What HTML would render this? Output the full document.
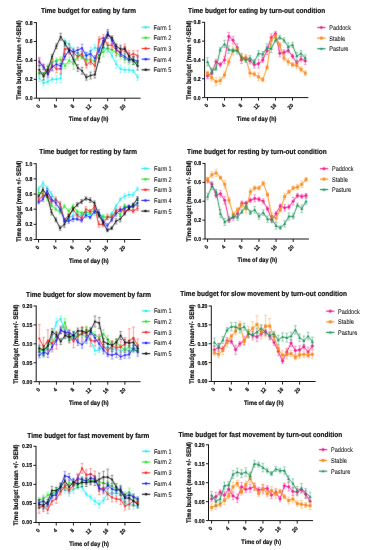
<!DOCTYPE html><html><head><meta charset="utf-8"><style>html,body{margin:0;padding:0;background:#fff;overflow:hidden}svg{display:block;text-rendering:geometricPrecision;will-change:transform}</style></head><body>
<svg width="366" height="550" viewBox="0 0 366 550" font-family='"Liberation Sans", sans-serif'><style>text{stroke:currentColor;stroke-width:0.16px;paint-order:stroke}</style>
<defs><filter id="bl" x="0" y="0" width="366" height="550" filterUnits="userSpaceOnUse" color-interpolation-filters="sRGB"><feConvolveMatrix order="3" kernelMatrix="0.3 1 0.3 1 10 1 0.3 1 0.3" edgeMode="duplicate"/></filter></defs>
<g filter="url(#bl)"><rect width="366" height="550" fill="#fff"/>
<path d="M39.3,75.25V81.46M37.95,75.25h2.7M37.95,81.46h2.7M43.57,80.19V85.97M42.22,80.19h2.7M42.22,85.97h2.7M47.85,79.1V84.23M46.5,79.1h2.7M46.5,84.23h2.7M52.12,77.34V81.26M50.77,77.34h2.7M50.77,81.26h2.7M56.4,75.59V83.01M55.05,75.59h2.7M55.05,83.01h2.7M60.67,74.16V82.55M59.32,74.16h2.7M59.32,82.55h2.7M64.95,38.69V44.31M63.6,38.69h2.7M63.6,44.31h2.7M69.22,40.99V47.68M67.88,40.99h2.7M67.88,47.68h2.7M73.5,47.17V54.73M72.15,47.17h2.7M72.15,54.73h2.7M77.78,49.89V57.68M76.43,49.89h2.7M76.43,57.68h2.7M82.05,52.02V59.33M80.7,52.02h2.7M80.7,59.33h2.7M86.33,53.11V58.24M84.98,53.11h2.7M84.98,58.24h2.7M90.6,47.62V54.28M89.25,47.62h2.7M89.25,54.28h2.7M94.88,44.5V50.79M93.53,44.5h2.7M93.53,50.79h2.7M99.15,45.99V52.13M97.8,45.99h2.7M97.8,52.13h2.7M103.42,46.21V50.02M102.08,46.21h2.7M102.08,50.02h2.7M107.7,45.44V52.68M106.35,45.44h2.7M106.35,52.68h2.7M111.98,53.22V58.13M110.63,53.22h2.7M110.63,58.13h2.7M116.25,60.17V68.19M114.9,60.17h2.7M114.9,68.19h2.7M120.53,64.97V72.84M119.18,64.97h2.7M119.18,72.84h2.7M124.8,67.15V72.55M123.45,67.15h2.7M123.45,72.55h2.7M129.07,67.05V72.65M127.72,67.05h2.7M127.72,72.65h2.7M133.35,68.82V72.77M132,68.82h2.7M132,72.77h2.7M137.62,74.59V80.23M136.28,74.59h2.7M136.28,80.23h2.7" stroke="#19eef2" stroke-width="0.55" fill="none" opacity="0.8"/>
<path d="M39.3,78.36L43.57,83.08L47.85,81.66L52.12,79.3L56.4,79.3L60.67,78.36L64.95,41.5L69.22,44.34L73.5,50.95L77.78,53.79L82.05,55.68L86.33,55.68L90.6,50.95L94.88,47.64L99.15,49.06L103.42,48.12L107.7,49.06L111.98,55.68L116.25,64.18L120.53,68.91L124.8,69.85L129.07,69.85L133.35,70.8L137.62,77.41" stroke="#19eef2" stroke-width="0.95" fill="none" stroke-linejoin="round"/>
<circle cx="39.3" cy="78.36" r="1.05" fill="#19eef2"/><circle cx="43.57" cy="83.08" r="1.05" fill="#19eef2"/><circle cx="47.85" cy="81.66" r="1.05" fill="#19eef2"/><circle cx="52.12" cy="79.3" r="1.05" fill="#19eef2"/><circle cx="56.4" cy="79.3" r="1.05" fill="#19eef2"/><circle cx="60.67" cy="78.36" r="1.05" fill="#19eef2"/><circle cx="64.95" cy="41.5" r="1.05" fill="#19eef2"/><circle cx="69.22" cy="44.34" r="1.05" fill="#19eef2"/><circle cx="73.5" cy="50.95" r="1.05" fill="#19eef2"/><circle cx="77.78" cy="53.79" r="1.05" fill="#19eef2"/><circle cx="82.05" cy="55.68" r="1.05" fill="#19eef2"/><circle cx="86.33" cy="55.68" r="1.05" fill="#19eef2"/><circle cx="90.6" cy="50.95" r="1.05" fill="#19eef2"/><circle cx="94.88" cy="47.64" r="1.05" fill="#19eef2"/><circle cx="99.15" cy="49.06" r="1.05" fill="#19eef2"/><circle cx="103.42" cy="48.12" r="1.05" fill="#19eef2"/><circle cx="107.7" cy="49.06" r="1.05" fill="#19eef2"/><circle cx="111.98" cy="55.68" r="1.05" fill="#19eef2"/><circle cx="116.25" cy="64.18" r="1.05" fill="#19eef2"/><circle cx="120.53" cy="68.91" r="1.05" fill="#19eef2"/><circle cx="124.8" cy="69.85" r="1.05" fill="#19eef2"/><circle cx="129.07" cy="69.85" r="1.05" fill="#19eef2"/><circle cx="133.35" cy="70.8" r="1.05" fill="#19eef2"/><circle cx="137.62" cy="77.41" r="1.05" fill="#19eef2"/>
<path d="M39.3,69.23V76.14M37.95,69.23h2.7M37.95,76.14h2.7M43.57,72.36V76.79M42.22,72.36h2.7M42.22,76.79h2.7M47.85,64.17V69.86M46.5,64.17h2.7M46.5,69.86h2.7M52.12,58.71V65.87M50.77,58.71h2.7M50.77,65.87h2.7M56.4,58.02V62.78M55.05,58.02h2.7M55.05,62.78h2.7M60.67,56.95V61.96M59.32,56.95h2.7M59.32,61.96h2.7M64.95,63.58V68.56M63.6,63.58h2.7M63.6,68.56h2.7M69.22,57.09V63.71M67.88,57.09h2.7M67.88,63.71h2.7M73.5,59.11V69.25M72.15,59.11h2.7M72.15,69.25h2.7M77.78,52.7V58.65M76.43,52.7h2.7M76.43,58.65h2.7M82.05,54.35V58.89M80.7,54.35h2.7M80.7,58.89h2.7M86.33,55.36V65.44M84.98,55.36h2.7M84.98,65.44h2.7M90.6,55.44V63.47M89.25,55.44h2.7M89.25,63.47h2.7M94.88,57.9V64.79M93.53,57.9h2.7M93.53,64.79h2.7M99.15,51.81V57.65M97.8,51.81h2.7M97.8,57.65h2.7M103.42,46.98V56.81M102.08,46.98h2.7M102.08,56.81h2.7M107.7,44.68V51.55M106.35,44.68h2.7M106.35,51.55h2.7M111.98,47.75V52.26M110.63,47.75h2.7M110.63,52.26h2.7M116.25,48.5V57.18M114.9,48.5h2.7M114.9,57.18h2.7M120.53,52.27V59.08M119.18,52.27h2.7M119.18,59.08h2.7M124.8,54.36V62.66M123.45,54.36h2.7M123.45,62.66h2.7M129.07,56.19V64.61M127.72,56.19h2.7M127.72,64.61h2.7M133.35,58.23V64.46M132,58.23h2.7M132,64.46h2.7M137.62,59.83V66.64M136.28,59.83h2.7M136.28,66.64h2.7" stroke="#1ee61e" stroke-width="0.55" fill="none" opacity="0.8"/>
<path d="M39.3,72.69L43.57,74.58L47.85,67.02L52.12,62.29L56.4,60.4L60.67,59.46L64.95,66.07L69.22,60.4L73.5,64.18L77.78,55.68L82.05,56.62L86.33,60.4L90.6,59.46L94.88,61.34L99.15,54.73L103.42,51.9L107.7,48.12L111.98,50.01L116.25,52.84L120.53,55.68L124.8,58.51L129.07,60.4L133.35,61.34L137.62,63.24" stroke="#1ee61e" stroke-width="0.95" fill="none" stroke-linejoin="round"/>
<circle cx="39.3" cy="72.69" r="1.05" fill="#1ee61e"/><circle cx="43.57" cy="74.58" r="1.05" fill="#1ee61e"/><circle cx="47.85" cy="67.02" r="1.05" fill="#1ee61e"/><circle cx="52.12" cy="62.29" r="1.05" fill="#1ee61e"/><circle cx="56.4" cy="60.4" r="1.05" fill="#1ee61e"/><circle cx="60.67" cy="59.46" r="1.05" fill="#1ee61e"/><circle cx="64.95" cy="66.07" r="1.05" fill="#1ee61e"/><circle cx="69.22" cy="60.4" r="1.05" fill="#1ee61e"/><circle cx="73.5" cy="64.18" r="1.05" fill="#1ee61e"/><circle cx="77.78" cy="55.68" r="1.05" fill="#1ee61e"/><circle cx="82.05" cy="56.62" r="1.05" fill="#1ee61e"/><circle cx="86.33" cy="60.4" r="1.05" fill="#1ee61e"/><circle cx="90.6" cy="59.46" r="1.05" fill="#1ee61e"/><circle cx="94.88" cy="61.34" r="1.05" fill="#1ee61e"/><circle cx="99.15" cy="54.73" r="1.05" fill="#1ee61e"/><circle cx="103.42" cy="51.9" r="1.05" fill="#1ee61e"/><circle cx="107.7" cy="48.12" r="1.05" fill="#1ee61e"/><circle cx="111.98" cy="50.01" r="1.05" fill="#1ee61e"/><circle cx="116.25" cy="52.84" r="1.05" fill="#1ee61e"/><circle cx="120.53" cy="55.68" r="1.05" fill="#1ee61e"/><circle cx="124.8" cy="58.51" r="1.05" fill="#1ee61e"/><circle cx="129.07" cy="60.4" r="1.05" fill="#1ee61e"/><circle cx="133.35" cy="61.34" r="1.05" fill="#1ee61e"/><circle cx="137.62" cy="63.24" r="1.05" fill="#1ee61e"/>
<path d="M39.3,57.27V65.42M37.95,57.27h2.7M37.95,65.42h2.7M43.57,64.11V69.92M42.22,64.11h2.7M42.22,69.92h2.7M47.85,69.52V75.85M46.5,69.52h2.7M46.5,75.85h2.7M52.12,60.02V70.23M50.77,60.02h2.7M50.77,70.23h2.7M56.4,64.96V72.85M55.05,64.96h2.7M55.05,72.85h2.7M60.67,63.78V74.03M59.32,63.78h2.7M59.32,74.03h2.7M64.95,43.28V54.84M63.6,43.28h2.7M63.6,54.84h2.7M69.22,43.88V54.24M67.88,43.88h2.7M67.88,54.24h2.7M73.5,49.87V55.81M72.15,49.87h2.7M72.15,55.81h2.7M77.78,53.16V60.08M76.43,53.16h2.7M76.43,60.08h2.7M82.05,49.77V57.8M80.7,49.77h2.7M80.7,57.8h2.7M86.33,62.04V68.21M84.98,62.04h2.7M84.98,68.21h2.7M90.6,58.15V64.54M89.25,58.15h2.7M89.25,64.54h2.7M94.88,63.09V69.05M93.53,63.09h2.7M93.53,69.05h2.7M99.15,36.83V42.39M97.8,36.83h2.7M97.8,42.39h2.7M103.42,34.75V40.69M102.08,34.75h2.7M102.08,40.69h2.7M107.7,42.4V48.16M106.35,42.4h2.7M106.35,48.16h2.7M111.98,40.9V49.66M110.63,40.9h2.7M110.63,49.66h2.7M116.25,44.36V55.65M114.9,44.36h2.7M114.9,55.65h2.7M120.53,47.25V56.54M119.18,47.25h2.7M119.18,56.54h2.7M124.8,44.11V52.12M123.45,44.11h2.7M123.45,52.12h2.7M129.07,50.39V60.96M127.72,50.39h2.7M127.72,60.96h2.7M133.35,50.8V56.77M132,50.8h2.7M132,56.77h2.7M137.62,50.61V60.74M136.28,50.61h2.7M136.28,60.74h2.7" stroke="#ff1f1f" stroke-width="0.55" fill="none" opacity="0.8"/>
<path d="M39.3,61.34L43.57,67.02L47.85,72.69L52.12,65.12L56.4,68.91L60.67,68.91L64.95,49.06L69.22,49.06L73.5,52.84L77.78,56.62L82.05,53.79L86.33,65.12L90.6,61.34L94.88,66.07L99.15,39.61L103.42,37.72L107.7,45.28L111.98,45.28L116.25,50.01L120.53,51.9L124.8,48.12L129.07,55.68L133.35,53.79L137.62,55.68" stroke="#ff1f1f" stroke-width="0.95" fill="none" stroke-linejoin="round"/>
<circle cx="39.3" cy="61.34" r="1.05" fill="#ff1f1f"/><circle cx="43.57" cy="67.02" r="1.05" fill="#ff1f1f"/><circle cx="47.85" cy="72.69" r="1.05" fill="#ff1f1f"/><circle cx="52.12" cy="65.12" r="1.05" fill="#ff1f1f"/><circle cx="56.4" cy="68.91" r="1.05" fill="#ff1f1f"/><circle cx="60.67" cy="68.91" r="1.05" fill="#ff1f1f"/><circle cx="64.95" cy="49.06" r="1.05" fill="#ff1f1f"/><circle cx="69.22" cy="49.06" r="1.05" fill="#ff1f1f"/><circle cx="73.5" cy="52.84" r="1.05" fill="#ff1f1f"/><circle cx="77.78" cy="56.62" r="1.05" fill="#ff1f1f"/><circle cx="82.05" cy="53.79" r="1.05" fill="#ff1f1f"/><circle cx="86.33" cy="65.12" r="1.05" fill="#ff1f1f"/><circle cx="90.6" cy="61.34" r="1.05" fill="#ff1f1f"/><circle cx="94.88" cy="66.07" r="1.05" fill="#ff1f1f"/><circle cx="99.15" cy="39.61" r="1.05" fill="#ff1f1f"/><circle cx="103.42" cy="37.72" r="1.05" fill="#ff1f1f"/><circle cx="107.7" cy="45.28" r="1.05" fill="#ff1f1f"/><circle cx="111.98" cy="45.28" r="1.05" fill="#ff1f1f"/><circle cx="116.25" cy="50.01" r="1.05" fill="#ff1f1f"/><circle cx="120.53" cy="51.9" r="1.05" fill="#ff1f1f"/><circle cx="124.8" cy="48.12" r="1.05" fill="#ff1f1f"/><circle cx="129.07" cy="55.68" r="1.05" fill="#ff1f1f"/><circle cx="133.35" cy="53.79" r="1.05" fill="#ff1f1f"/><circle cx="137.62" cy="55.68" r="1.05" fill="#ff1f1f"/>
<path d="M39.3,58.89V65.69M37.95,58.89h2.7M37.95,65.69h2.7M43.57,64.7V69.33M42.22,64.7h2.7M42.22,69.33h2.7M47.85,71.44V77.71M46.5,71.44h2.7M46.5,77.71h2.7M52.12,63.12V70.91M50.77,63.12h2.7M50.77,70.91h2.7M56.4,61.56V66.8M55.05,61.56h2.7M55.05,66.8h2.7M60.67,63.49V68.65M59.32,63.49h2.7M59.32,68.65h2.7M64.95,53.6V59.64M63.6,53.6h2.7M63.6,59.64h2.7M69.22,47.94V52.07M67.88,47.94h2.7M67.88,52.07h2.7M73.5,48.88V54.91M72.15,48.88h2.7M72.15,54.91h2.7M77.78,47.22V52.79M76.43,47.22h2.7M76.43,52.79h2.7M82.05,44.24V51.99M80.7,44.24h2.7M80.7,51.99h2.7M86.33,52.34V59.01M84.98,52.34h2.7M84.98,59.01h2.7M90.6,50.66V56.91M89.25,50.66h2.7M89.25,56.91h2.7M94.88,55.62V61.4M93.53,55.62h2.7M93.53,61.4h2.7M99.15,47.66V52.35M97.8,47.66h2.7M97.8,52.35h2.7M103.42,38.39V42.72M102.08,38.39h2.7M102.08,42.72h2.7M107.7,29.54V36.45M106.35,29.54h2.7M106.35,36.45h2.7M111.98,37.62V43.49M110.63,37.62h2.7M110.63,43.49h2.7M116.25,46.56V51.56M114.9,46.56h2.7M114.9,51.56h2.7M120.53,51.39V56.18M119.18,51.39h2.7M119.18,56.18h2.7M124.8,53.1V60.14M123.45,53.1h2.7M123.45,60.14h2.7M129.07,56.27V62.64M127.72,56.27h2.7M127.72,62.64h2.7M133.35,57.19V61.72M132,57.19h2.7M132,61.72h2.7M137.62,57.2V65.49M136.28,57.2h2.7M136.28,65.49h2.7" stroke="#1f1fff" stroke-width="0.55" fill="none" opacity="0.8"/>
<path d="M39.3,62.29L43.57,67.02L47.85,74.58L52.12,67.02L56.4,64.18L60.67,66.07L64.95,56.62L69.22,50.01L73.5,51.9L77.78,50.01L82.05,48.12L86.33,55.68L90.6,53.79L94.88,58.51L99.15,50.01L103.42,40.56L107.7,33L111.98,40.56L116.25,49.06L120.53,53.79L124.8,56.62L129.07,59.46L133.35,59.46L137.62,61.34" stroke="#1f1fff" stroke-width="0.95" fill="none" stroke-linejoin="round"/>
<circle cx="39.3" cy="62.29" r="1.05" fill="#1f1fff"/><circle cx="43.57" cy="67.02" r="1.05" fill="#1f1fff"/><circle cx="47.85" cy="74.58" r="1.05" fill="#1f1fff"/><circle cx="52.12" cy="67.02" r="1.05" fill="#1f1fff"/><circle cx="56.4" cy="64.18" r="1.05" fill="#1f1fff"/><circle cx="60.67" cy="66.07" r="1.05" fill="#1f1fff"/><circle cx="64.95" cy="56.62" r="1.05" fill="#1f1fff"/><circle cx="69.22" cy="50.01" r="1.05" fill="#1f1fff"/><circle cx="73.5" cy="51.9" r="1.05" fill="#1f1fff"/><circle cx="77.78" cy="50.01" r="1.05" fill="#1f1fff"/><circle cx="82.05" cy="48.12" r="1.05" fill="#1f1fff"/><circle cx="86.33" cy="55.68" r="1.05" fill="#1f1fff"/><circle cx="90.6" cy="53.79" r="1.05" fill="#1f1fff"/><circle cx="94.88" cy="58.51" r="1.05" fill="#1f1fff"/><circle cx="99.15" cy="50.01" r="1.05" fill="#1f1fff"/><circle cx="103.42" cy="40.56" r="1.05" fill="#1f1fff"/><circle cx="107.7" cy="33" r="1.05" fill="#1f1fff"/><circle cx="111.98" cy="40.56" r="1.05" fill="#1f1fff"/><circle cx="116.25" cy="49.06" r="1.05" fill="#1f1fff"/><circle cx="120.53" cy="53.79" r="1.05" fill="#1f1fff"/><circle cx="124.8" cy="56.62" r="1.05" fill="#1f1fff"/><circle cx="129.07" cy="59.46" r="1.05" fill="#1f1fff"/><circle cx="133.35" cy="59.46" r="1.05" fill="#1f1fff"/><circle cx="137.62" cy="61.34" r="1.05" fill="#1f1fff"/>
<path d="M39.3,65.77V73.93M37.95,65.77h2.7M37.95,73.93h2.7M43.57,72.89V80.04M42.22,72.89h2.7M42.22,80.04h2.7M47.85,66.16V73.54M46.5,66.16h2.7M46.5,73.54h2.7M52.12,54.36V58.88M50.77,54.36h2.7M50.77,58.88h2.7M56.4,43.9V48.55M55.05,43.9h2.7M55.05,48.55h2.7M60.67,33.33V40.22M59.32,33.33h2.7M59.32,40.22h2.7M64.95,40.86V45.92M63.6,40.86h2.7M63.6,45.92h2.7M69.22,49.13V52.77M67.88,49.13h2.7M67.88,52.77h2.7M73.5,56.88V62.03M72.15,56.88h2.7M72.15,62.03h2.7M77.78,64.59V71.33M76.43,64.59h2.7M76.43,71.33h2.7M82.05,67.32V74.27M80.7,67.32h2.7M80.7,74.27h2.7M86.33,74.63V80.19M84.98,74.63h2.7M84.98,80.19h2.7M90.6,72.05V78.99M89.25,72.05h2.7M89.25,78.99h2.7M94.88,71.14V78.01M93.53,71.14h2.7M93.53,78.01h2.7M99.15,54.77V62.25M97.8,54.77h2.7M97.8,62.25h2.7M103.42,41.09V47.58M102.08,41.09h2.7M102.08,47.58h2.7M107.7,31.23V38.54M106.35,31.23h2.7M106.35,38.54h2.7M111.98,35.77V39.67M110.63,35.77h2.7M110.63,39.67h2.7M116.25,44V48.45M114.9,44h2.7M114.9,48.45h2.7M120.53,45.23V52.89M119.18,45.23h2.7M119.18,52.89h2.7M124.8,46.73V51.39M123.45,46.73h2.7M123.45,51.39h2.7M129.07,52.86V60.38M127.72,52.86h2.7M127.72,60.38h2.7M133.35,56.31V64.49M132,56.31h2.7M132,64.49h2.7M137.62,62.05V70.09M136.28,62.05h2.7M136.28,70.09h2.7" stroke="#111111" stroke-width="0.55" fill="none" opacity="0.8"/>
<path d="M39.3,69.85L43.57,76.47L47.85,69.85L52.12,56.62L56.4,46.23L60.67,36.77L64.95,43.39L69.22,50.95L73.5,59.46L77.78,67.96L82.05,70.8L86.33,77.41L90.6,75.52L94.88,74.58L99.15,58.51L103.42,44.34L107.7,34.88L111.98,37.72L116.25,46.23L120.53,49.06L124.8,49.06L129.07,56.62L133.35,60.4L137.62,66.07" stroke="#111111" stroke-width="0.95" fill="none" stroke-linejoin="round"/>
<circle cx="39.3" cy="69.85" r="1.05" fill="#111111"/><circle cx="43.57" cy="76.47" r="1.05" fill="#111111"/><circle cx="47.85" cy="69.85" r="1.05" fill="#111111"/><circle cx="52.12" cy="56.62" r="1.05" fill="#111111"/><circle cx="56.4" cy="46.23" r="1.05" fill="#111111"/><circle cx="60.67" cy="36.77" r="1.05" fill="#111111"/><circle cx="64.95" cy="43.39" r="1.05" fill="#111111"/><circle cx="69.22" cy="50.95" r="1.05" fill="#111111"/><circle cx="73.5" cy="59.46" r="1.05" fill="#111111"/><circle cx="77.78" cy="67.96" r="1.05" fill="#111111"/><circle cx="82.05" cy="70.8" r="1.05" fill="#111111"/><circle cx="86.33" cy="77.41" r="1.05" fill="#111111"/><circle cx="90.6" cy="75.52" r="1.05" fill="#111111"/><circle cx="94.88" cy="74.58" r="1.05" fill="#111111"/><circle cx="99.15" cy="58.51" r="1.05" fill="#111111"/><circle cx="103.42" cy="44.34" r="1.05" fill="#111111"/><circle cx="107.7" cy="34.88" r="1.05" fill="#111111"/><circle cx="111.98" cy="37.72" r="1.05" fill="#111111"/><circle cx="116.25" cy="46.23" r="1.05" fill="#111111"/><circle cx="120.53" cy="49.06" r="1.05" fill="#111111"/><circle cx="124.8" cy="49.06" r="1.05" fill="#111111"/><circle cx="129.07" cy="56.62" r="1.05" fill="#111111"/><circle cx="133.35" cy="60.4" r="1.05" fill="#111111"/><circle cx="137.62" cy="66.07" r="1.05" fill="#111111"/>
<path d="M141.6,27.2h8.3" stroke="#19eef2" stroke-width="1.15"/>
<circle cx="145.75" cy="27.2" r="1.26" fill="#19eef2"/>
<path d="M141.6,37.85h8.3" stroke="#1ee61e" stroke-width="1.15"/>
<circle cx="145.75" cy="37.85" r="1.26" fill="#1ee61e"/>
<path d="M141.6,48.5h8.3" stroke="#ff1f1f" stroke-width="1.15"/>
<circle cx="145.75" cy="48.5" r="1.26" fill="#ff1f1f"/>
<path d="M141.6,59.15h8.3" stroke="#1f1fff" stroke-width="1.15"/>
<circle cx="145.75" cy="59.15" r="1.26" fill="#1f1fff"/>
<path d="M141.6,69.8h8.3" stroke="#111111" stroke-width="1.15"/>
<circle cx="145.75" cy="69.8" r="1.26" fill="#111111"/>
<path d="M207.5,73.37V78.55M206.15,73.37h2.7M206.15,78.55h2.7M211.75,69.25V77.02M210.4,69.25h2.7M210.4,77.02h2.7M216,59.35V64.34M214.65,59.35h2.7M214.65,64.34h2.7M220.25,62.47V66.86M218.9,62.47h2.7M218.9,66.86h2.7M224.5,56.28V63.64M223.15,56.28h2.7M223.15,63.64h2.7M228.75,32.44V40.43M227.4,32.44h2.7M227.4,40.43h2.7M233,36.3V44.1M231.65,36.3h2.7M231.65,44.1h2.7M237.25,43.77V51.69M235.9,43.77h2.7M235.9,51.69h2.7M241.5,56.41V63.51M240.15,56.41h2.7M240.15,63.51h2.7M245.75,55.92V60.23M244.4,55.92h2.7M244.4,60.23h2.7M250,57.86V63.94M248.65,57.86h2.7M248.65,63.94h2.7M254.25,61.23V68.1M252.9,61.23h2.7M252.9,68.1h2.7M258.5,59.39V68.05M257.15,59.39h2.7M257.15,68.05h2.7M262.75,57.44V62.48M261.4,57.44h2.7M261.4,62.48h2.7M267,46.46V54.64M265.65,46.46h2.7M265.65,54.64h2.7M271.25,33.89V40.86M269.9,33.89h2.7M269.9,40.86h2.7M275.5,31.39V35.83M274.15,31.39h2.7M274.15,35.83h2.7M279.75,49.9V56.84M278.4,49.9h2.7M278.4,56.84h2.7M284,49.85V55.02M282.65,49.85h2.7M282.65,55.02h2.7M288.25,48.31V52.79M286.9,48.31h2.7M286.9,52.79h2.7M292.5,54.15V58.25M291.15,54.15h2.7M291.15,58.25h2.7M296.75,60.65V64.92M295.4,60.65h2.7M295.4,64.92h2.7M301,56.42V61.62M299.65,56.42h2.7M299.65,61.62h2.7M305.25,57.18V64.62M303.9,57.18h2.7M303.9,64.62h2.7" stroke="#f2188c" stroke-width="0.55" fill="none" opacity="0.8"/>
<path d="M207.5,75.96L211.75,73.13L216,61.84L220.25,64.66L224.5,59.96L228.75,36.43L233,40.2L237.25,47.73L241.5,59.96L245.75,58.08L250,60.9L254.25,64.66L258.5,63.72L262.75,59.96L267,50.55L271.25,37.38L275.5,33.61L279.75,53.37L284,52.43L288.25,50.55L292.5,56.2L296.75,62.78L301,59.02L305.25,60.9" stroke="#f2188c" stroke-width="0.95" fill="none" stroke-linejoin="round"/>
<path d="M207.5,74.11L209.35,75.96L207.5,77.81L205.65,75.96Z" fill="#f2188c"/><path d="M211.75,71.28L213.6,73.13L211.75,74.98L209.9,73.13Z" fill="#f2188c"/><path d="M216,59.99L217.85,61.84L216,63.69L214.15,61.84Z" fill="#f2188c"/><path d="M220.25,62.81L222.1,64.66L220.25,66.51L218.4,64.66Z" fill="#f2188c"/><path d="M224.5,58.11L226.35,59.96L224.5,61.81L222.65,59.96Z" fill="#f2188c"/><path d="M228.75,34.58L230.6,36.43L228.75,38.28L226.9,36.43Z" fill="#f2188c"/><path d="M233,38.35L234.85,40.2L233,42.05L231.15,40.2Z" fill="#f2188c"/><path d="M237.25,45.88L239.1,47.73L237.25,49.58L235.4,47.73Z" fill="#f2188c"/><path d="M241.5,58.11L243.35,59.96L241.5,61.81L239.65,59.96Z" fill="#f2188c"/><path d="M245.75,56.23L247.6,58.08L245.75,59.93L243.9,58.08Z" fill="#f2188c"/><path d="M250,59.05L251.85,60.9L250,62.75L248.15,60.9Z" fill="#f2188c"/><path d="M254.25,62.81L256.1,64.66L254.25,66.51L252.4,64.66Z" fill="#f2188c"/><path d="M258.5,61.87L260.35,63.72L258.5,65.57L256.65,63.72Z" fill="#f2188c"/><path d="M262.75,58.11L264.6,59.96L262.75,61.81L260.9,59.96Z" fill="#f2188c"/><path d="M267,48.7L268.85,50.55L267,52.4L265.15,50.55Z" fill="#f2188c"/><path d="M271.25,35.53L273.1,37.38L271.25,39.23L269.4,37.38Z" fill="#f2188c"/><path d="M275.5,31.76L277.35,33.61L275.5,35.46L273.65,33.61Z" fill="#f2188c"/><path d="M279.75,51.52L281.6,53.37L279.75,55.22L277.9,53.37Z" fill="#f2188c"/><path d="M284,50.58L285.85,52.43L284,54.28L282.15,52.43Z" fill="#f2188c"/><path d="M288.25,48.7L290.1,50.55L288.25,52.4L286.4,50.55Z" fill="#f2188c"/><path d="M292.5,54.35L294.35,56.2L292.5,58.05L290.65,56.2Z" fill="#f2188c"/><path d="M296.75,60.93L298.6,62.78L296.75,64.63L294.9,62.78Z" fill="#f2188c"/><path d="M301,57.17L302.85,59.02L301,60.87L299.15,59.02Z" fill="#f2188c"/><path d="M305.25,59.05L307.1,60.9L305.25,62.75L303.4,60.9Z" fill="#f2188c"/>
<path d="M207.5,71.24V75.03M206.15,71.24h2.7M206.15,75.03h2.7M211.75,74.74V80.93M210.4,74.74h2.7M210.4,80.93h2.7M216,77.8V85.4M214.65,77.8h2.7M214.65,85.4h2.7M220.25,77.22V84.11M218.9,77.22h2.7M218.9,84.11h2.7M224.5,72V78.03M223.15,72h2.7M223.15,78.03h2.7M228.75,58.64V65.05M227.4,58.64h2.7M227.4,65.05h2.7M233,46.25V54.85M231.65,46.25h2.7M231.65,54.85h2.7M237.25,47.6V51.62M235.9,47.6h2.7M235.9,51.62h2.7M241.5,54V60.28M240.15,54h2.7M240.15,60.28h2.7M245.75,54.38V61.78M244.4,54.38h2.7M244.4,61.78h2.7M250,69.39V76.87M248.65,69.39h2.7M248.65,76.87h2.7M254.25,71.99V76.16M252.9,71.99h2.7M252.9,76.16h2.7M258.5,72.96V80.83M257.15,72.96h2.7M257.15,80.83h2.7M262.75,77.58V81.86M261.4,77.58h2.7M261.4,81.86h2.7M267,65.39V69.59M265.65,65.39h2.7M265.65,69.59h2.7M271.25,37.05V43.35M269.9,37.05h2.7M269.9,43.35h2.7M275.5,34.05V38.82M274.15,34.05h2.7M274.15,38.82h2.7M279.75,42.29V47.52M278.4,42.29h2.7M278.4,47.52h2.7M284,55.19V60.96M282.65,55.19h2.7M282.65,60.96h2.7M288.25,58.62V65.07M286.9,58.62h2.7M286.9,65.07h2.7M292.5,62.53V66.8M291.15,62.53h2.7M291.15,66.8h2.7M296.75,62.48V68.73M295.4,62.48h2.7M295.4,68.73h2.7M301,66.78V71.96M299.65,66.78h2.7M299.65,71.96h2.7M305.25,70.88V75.39M303.9,70.88h2.7M303.9,75.39h2.7" stroke="#fb8c1c" stroke-width="0.55" fill="none" opacity="0.8"/>
<path d="M207.5,73.13L211.75,77.84L216,81.6L220.25,80.66L224.5,75.02L228.75,61.84L233,50.55L237.25,49.61L241.5,57.14L245.75,58.08L250,73.13L254.25,74.07L258.5,76.9L262.75,79.72L267,67.49L271.25,40.2L275.5,36.43L279.75,44.9L284,58.08L288.25,61.84L292.5,64.66L296.75,65.61L301,69.37L305.25,73.13" stroke="#fb8c1c" stroke-width="0.95" fill="none" stroke-linejoin="round"/>
<rect x="206.05" y="71.68" width="2.9" height="2.9" fill="#fb8c1c"/><rect x="210.3" y="76.39" width="2.9" height="2.9" fill="#fb8c1c"/><rect x="214.55" y="80.15" width="2.9" height="2.9" fill="#fb8c1c"/><rect x="218.8" y="79.21" width="2.9" height="2.9" fill="#fb8c1c"/><rect x="223.05" y="73.57" width="2.9" height="2.9" fill="#fb8c1c"/><rect x="227.3" y="60.39" width="2.9" height="2.9" fill="#fb8c1c"/><rect x="231.55" y="49.1" width="2.9" height="2.9" fill="#fb8c1c"/><rect x="235.8" y="48.16" width="2.9" height="2.9" fill="#fb8c1c"/><rect x="240.05" y="55.69" width="2.9" height="2.9" fill="#fb8c1c"/><rect x="244.3" y="56.63" width="2.9" height="2.9" fill="#fb8c1c"/><rect x="248.55" y="71.68" width="2.9" height="2.9" fill="#fb8c1c"/><rect x="252.8" y="72.62" width="2.9" height="2.9" fill="#fb8c1c"/><rect x="257.05" y="75.45" width="2.9" height="2.9" fill="#fb8c1c"/><rect x="261.3" y="78.27" width="2.9" height="2.9" fill="#fb8c1c"/><rect x="265.55" y="66.04" width="2.9" height="2.9" fill="#fb8c1c"/><rect x="269.8" y="38.75" width="2.9" height="2.9" fill="#fb8c1c"/><rect x="274.05" y="34.98" width="2.9" height="2.9" fill="#fb8c1c"/><rect x="278.3" y="43.45" width="2.9" height="2.9" fill="#fb8c1c"/><rect x="282.55" y="56.63" width="2.9" height="2.9" fill="#fb8c1c"/><rect x="286.8" y="60.39" width="2.9" height="2.9" fill="#fb8c1c"/><rect x="291.05" y="63.21" width="2.9" height="2.9" fill="#fb8c1c"/><rect x="295.3" y="64.16" width="2.9" height="2.9" fill="#fb8c1c"/><rect x="299.55" y="67.92" width="2.9" height="2.9" fill="#fb8c1c"/><rect x="303.8" y="71.68" width="2.9" height="2.9" fill="#fb8c1c"/>
<path d="M207.5,57.8V65.89M206.15,57.8h2.7M206.15,65.89h2.7M211.75,68.08V74.43M210.4,68.08h2.7M210.4,74.43h2.7M216,66.35V70.5M214.65,66.35h2.7M214.65,70.5h2.7M220.25,47.63V51.59M218.9,47.63h2.7M218.9,51.59h2.7M224.5,40.26V47.66M223.15,40.26h2.7M223.15,47.66h2.7M228.75,45.87V53.35M227.4,45.87h2.7M227.4,53.35h2.7M233,48.39V52.71M231.65,48.39h2.7M231.65,52.71h2.7M237.25,46.96V54.14M235.9,46.96h2.7M235.9,54.14h2.7M241.5,53.38V60.89M240.15,53.38h2.7M240.15,60.89h2.7M245.75,57.46V62.46M244.4,57.46h2.7M244.4,62.46h2.7M250,55.65V60.5M248.65,55.65h2.7M248.65,60.5h2.7M254.25,59.75V63.94M252.9,59.75h2.7M252.9,63.94h2.7M258.5,50.55V56.19M257.15,50.55h2.7M257.15,56.19h2.7M262.75,51.51V57.12M261.4,51.51h2.7M261.4,57.12h2.7M267,43.84V51.62M265.65,43.84h2.7M265.65,51.62h2.7M271.25,44.76V52.57M269.9,44.76h2.7M269.9,52.57h2.7M275.5,38.22V42.18M274.15,38.22h2.7M274.15,42.18h2.7M279.75,35.3V39.45M278.4,35.3h2.7M278.4,39.45h2.7M284,37.78V42.61M282.65,37.78h2.7M282.65,42.61h2.7M288.25,42.9V50.67M286.9,42.9h2.7M286.9,50.67h2.7M292.5,42.2V47.61M291.15,42.2h2.7M291.15,47.61h2.7M296.75,52.26V60.13M295.4,52.26h2.7M295.4,60.13h2.7M301,50.53V56.21M299.65,50.53h2.7M299.65,56.21h2.7M305.25,54.83V61.33M303.9,54.83h2.7M303.9,61.33h2.7" stroke="#17935a" stroke-width="0.55" fill="none" opacity="0.8"/>
<path d="M207.5,61.84L211.75,71.25L216,68.43L220.25,49.61L224.5,43.96L228.75,49.61L233,50.55L237.25,50.55L241.5,57.14L245.75,59.96L250,58.08L254.25,61.84L258.5,53.37L262.75,54.31L267,47.73L271.25,48.67L275.5,40.2L279.75,37.38L284,40.2L288.25,46.79L292.5,44.9L296.75,56.2L301,53.37L305.25,58.08" stroke="#17935a" stroke-width="0.95" fill="none" stroke-linejoin="round"/>
<path d="M207.5,60.29L209.05,63L205.95,63Z" fill="#17935a"/><path d="M211.75,69.7L213.3,72.41L210.2,72.41Z" fill="#17935a"/><path d="M216,66.88L217.55,69.59L214.45,69.59Z" fill="#17935a"/><path d="M220.25,48.06L221.8,50.77L218.7,50.77Z" fill="#17935a"/><path d="M224.5,42.41L226.05,45.13L222.95,45.13Z" fill="#17935a"/><path d="M228.75,48.06L230.3,50.77L227.2,50.77Z" fill="#17935a"/><path d="M233,49L234.55,51.71L231.45,51.71Z" fill="#17935a"/><path d="M237.25,49L238.8,51.71L235.7,51.71Z" fill="#17935a"/><path d="M241.5,55.59L243.05,58.3L239.95,58.3Z" fill="#17935a"/><path d="M245.75,58.41L247.3,61.12L244.2,61.12Z" fill="#17935a"/><path d="M250,56.53L251.55,59.24L248.45,59.24Z" fill="#17935a"/><path d="M254.25,60.29L255.8,63L252.7,63Z" fill="#17935a"/><path d="M258.5,51.82L260.05,54.54L256.95,54.54Z" fill="#17935a"/><path d="M262.75,52.76L264.3,55.48L261.2,55.48Z" fill="#17935a"/><path d="M267,46.18L268.55,48.89L265.45,48.89Z" fill="#17935a"/><path d="M271.25,47.12L272.8,49.83L269.7,49.83Z" fill="#17935a"/><path d="M275.5,38.65L277.05,41.36L273.95,41.36Z" fill="#17935a"/><path d="M279.75,35.83L281.3,38.54L278.2,38.54Z" fill="#17935a"/><path d="M284,38.65L285.55,41.36L282.45,41.36Z" fill="#17935a"/><path d="M288.25,45.24L289.8,47.95L286.7,47.95Z" fill="#17935a"/><path d="M292.5,43.35L294.05,46.07L290.95,46.07Z" fill="#17935a"/><path d="M296.75,54.65L298.3,57.36L295.2,57.36Z" fill="#17935a"/><path d="M301,51.82L302.55,54.54L299.45,54.54Z" fill="#17935a"/><path d="M305.25,56.53L306.8,59.24L303.7,59.24Z" fill="#17935a"/>
<path d="M317.2,27.5h8.3" stroke="#f2188c" stroke-width="1.15"/>
<path d="M321.35,25.65L323.2,27.5L321.35,29.35L319.5,27.5Z" fill="#f2188c"/>
<path d="M317.2,38.1h8.3" stroke="#fb8c1c" stroke-width="1.15"/>
<rect x="319.9" y="36.65" width="2.9" height="2.9" fill="#fb8c1c"/>
<path d="M317.2,48.7h8.3" stroke="#17935a" stroke-width="1.15"/>
<path d="M321.35,47.15L322.9,49.86L319.8,49.86Z" fill="#17935a"/>
<path d="M38.6,186.7V190.73M37.25,186.7h2.7M37.25,190.73h2.7M42.9,181.1V185.72M41.55,181.1h2.7M41.55,185.72h2.7M47.2,186.13V189.78M45.85,186.13h2.7M45.85,189.78h2.7M51.5,191.49V196.55M50.15,191.49h2.7M50.15,196.55h2.7M55.8,198.45V201.72M54.45,198.45h2.7M54.45,201.72h2.7M60.1,202.69V206.57M58.75,202.69h2.7M58.75,206.57h2.7M64.4,218.33V221.25M63.05,218.33h2.7M63.05,221.25h2.7M68.7,216.05V220.5M67.35,216.05h2.7M67.35,220.5h2.7M73,212.34V218.15M71.65,212.34h2.7M71.65,218.15h2.7M77.3,212.95V216.02M75.95,212.95h2.7M75.95,216.02h2.7M81.6,213.7V216.79M80.25,213.7h2.7M80.25,216.79h2.7M85.9,212.21V216.76M84.55,212.21h2.7M84.55,216.76h2.7M90.2,212.3V216.67M88.85,212.3h2.7M88.85,216.67h2.7M94.5,210.24V215.7M93.15,210.24h2.7M93.15,215.7h2.7M98.8,212.71V216.26M97.45,212.71h2.7M97.45,216.26h2.7M103.1,214.67V218.85M101.75,214.67h2.7M101.75,218.85h2.7M107.4,215.66V219.38M106.05,215.66h2.7M106.05,219.38h2.7M111.7,211.97V215.49M110.35,211.97h2.7M110.35,215.49h2.7M116,204.29V208.01M114.65,204.29h2.7M114.65,208.01h2.7M120.3,197.65V201M118.95,197.65h2.7M118.95,201h2.7M124.6,193.7V198.88M123.25,193.7h2.7M123.25,198.88h2.7M128.9,191.89V197.67M127.55,191.89h2.7M127.55,197.67h2.7M133.2,192.22V197.34M131.85,192.22h2.7M131.85,197.34h2.7M137.5,187.1V190.33M136.15,187.1h2.7M136.15,190.33h2.7" stroke="#19eef2" stroke-width="0.55" fill="none" opacity="0.8"/>
<path d="M38.6,188.71L42.9,183.41L47.2,187.96L51.5,194.02L55.8,200.08L60.1,204.63L64.4,219.79L68.7,218.28L73,215.24L77.3,214.49L81.6,215.24L85.9,214.49L90.2,214.49L94.5,212.97L98.8,214.49L103.1,216.76L107.4,217.52L111.7,213.73L116,206.15L120.3,199.33L124.6,196.29L128.9,194.78L133.2,194.78L137.5,188.71" stroke="#19eef2" stroke-width="0.95" fill="none" stroke-linejoin="round"/>
<circle cx="38.6" cy="188.71" r="1.05" fill="#19eef2"/><circle cx="42.9" cy="183.41" r="1.05" fill="#19eef2"/><circle cx="47.2" cy="187.96" r="1.05" fill="#19eef2"/><circle cx="51.5" cy="194.02" r="1.05" fill="#19eef2"/><circle cx="55.8" cy="200.08" r="1.05" fill="#19eef2"/><circle cx="60.1" cy="204.63" r="1.05" fill="#19eef2"/><circle cx="64.4" cy="219.79" r="1.05" fill="#19eef2"/><circle cx="68.7" cy="218.28" r="1.05" fill="#19eef2"/><circle cx="73" cy="215.24" r="1.05" fill="#19eef2"/><circle cx="77.3" cy="214.49" r="1.05" fill="#19eef2"/><circle cx="81.6" cy="215.24" r="1.05" fill="#19eef2"/><circle cx="85.9" cy="214.49" r="1.05" fill="#19eef2"/><circle cx="90.2" cy="214.49" r="1.05" fill="#19eef2"/><circle cx="94.5" cy="212.97" r="1.05" fill="#19eef2"/><circle cx="98.8" cy="214.49" r="1.05" fill="#19eef2"/><circle cx="103.1" cy="216.76" r="1.05" fill="#19eef2"/><circle cx="107.4" cy="217.52" r="1.05" fill="#19eef2"/><circle cx="111.7" cy="213.73" r="1.05" fill="#19eef2"/><circle cx="116" cy="206.15" r="1.05" fill="#19eef2"/><circle cx="120.3" cy="199.33" r="1.05" fill="#19eef2"/><circle cx="124.6" cy="196.29" r="1.05" fill="#19eef2"/><circle cx="128.9" cy="194.78" r="1.05" fill="#19eef2"/><circle cx="133.2" cy="194.78" r="1.05" fill="#19eef2"/><circle cx="137.5" cy="188.71" r="1.05" fill="#19eef2"/>
<path d="M38.6,189.75V195.26M37.25,189.75h2.7M37.25,195.26h2.7M42.9,191.69V196.35M41.55,191.69h2.7M41.55,196.35h2.7M47.2,194.87V200.75M45.85,194.87h2.7M45.85,200.75h2.7M51.5,203.99V206.79M50.15,203.99h2.7M50.15,206.79h2.7M55.8,207.53V210.83M54.45,207.53h2.7M54.45,210.83h2.7M60.1,210.5V213.92M58.75,210.5h2.7M58.75,213.92h2.7M64.4,204.59V207.71M63.05,204.59h2.7M63.05,207.71h2.7M68.7,208.83V214.08M67.35,208.83h2.7M67.35,214.08h2.7M73,204.5V207.8M71.65,204.5h2.7M71.65,207.8h2.7M77.3,209.87V213.03M75.95,209.87h2.7M75.95,213.03h2.7M81.6,211.11V214.83M80.25,211.11h2.7M80.25,214.83h2.7M85.9,210.61V213.81M84.55,210.61h2.7M84.55,213.81h2.7M90.2,210.37V214.06M88.85,210.37h2.7M88.85,214.06h2.7M94.5,209.2V212.2M93.15,209.2h2.7M93.15,212.2h2.7M98.8,212.13V216.84M97.45,212.13h2.7M97.45,216.84h2.7M103.1,215.09V218.43M101.75,215.09h2.7M101.75,218.43h2.7M107.4,216.19V218.84M106.05,216.19h2.7M106.05,218.84h2.7M111.7,213.99V219.53M110.35,213.99h2.7M110.35,219.53h2.7M116,209.29V215.13M114.65,209.29h2.7M114.65,215.13h2.7M120.3,212.82V216.15M118.95,212.82h2.7M118.95,216.15h2.7M124.6,203.99V206.79M123.25,203.99h2.7M123.25,206.79h2.7M128.9,205.49V209.84M127.55,205.49h2.7M127.55,209.84h2.7M133.2,204.28V209.53M131.85,204.28h2.7M131.85,209.53h2.7M137.5,200.33V205.9M136.15,200.33h2.7M136.15,205.9h2.7" stroke="#1ee61e" stroke-width="0.55" fill="none" opacity="0.8"/>
<path d="M38.6,192.5L42.9,194.02L47.2,197.81L51.5,205.39L55.8,209.18L60.1,212.21L64.4,206.15L68.7,211.45L73,206.15L77.3,211.45L81.6,212.97L85.9,212.21L90.2,212.21L94.5,210.7L98.8,214.49L103.1,216.76L107.4,217.52L111.7,216.76L116,212.21L120.3,214.49L124.6,205.39L128.9,207.66L133.2,206.91L137.5,203.12" stroke="#1ee61e" stroke-width="0.95" fill="none" stroke-linejoin="round"/>
<circle cx="38.6" cy="192.5" r="1.05" fill="#1ee61e"/><circle cx="42.9" cy="194.02" r="1.05" fill="#1ee61e"/><circle cx="47.2" cy="197.81" r="1.05" fill="#1ee61e"/><circle cx="51.5" cy="205.39" r="1.05" fill="#1ee61e"/><circle cx="55.8" cy="209.18" r="1.05" fill="#1ee61e"/><circle cx="60.1" cy="212.21" r="1.05" fill="#1ee61e"/><circle cx="64.4" cy="206.15" r="1.05" fill="#1ee61e"/><circle cx="68.7" cy="211.45" r="1.05" fill="#1ee61e"/><circle cx="73" cy="206.15" r="1.05" fill="#1ee61e"/><circle cx="77.3" cy="211.45" r="1.05" fill="#1ee61e"/><circle cx="81.6" cy="212.97" r="1.05" fill="#1ee61e"/><circle cx="85.9" cy="212.21" r="1.05" fill="#1ee61e"/><circle cx="90.2" cy="212.21" r="1.05" fill="#1ee61e"/><circle cx="94.5" cy="210.7" r="1.05" fill="#1ee61e"/><circle cx="98.8" cy="214.49" r="1.05" fill="#1ee61e"/><circle cx="103.1" cy="216.76" r="1.05" fill="#1ee61e"/><circle cx="107.4" cy="217.52" r="1.05" fill="#1ee61e"/><circle cx="111.7" cy="216.76" r="1.05" fill="#1ee61e"/><circle cx="116" cy="212.21" r="1.05" fill="#1ee61e"/><circle cx="120.3" cy="214.49" r="1.05" fill="#1ee61e"/><circle cx="124.6" cy="205.39" r="1.05" fill="#1ee61e"/><circle cx="128.9" cy="207.66" r="1.05" fill="#1ee61e"/><circle cx="133.2" cy="206.91" r="1.05" fill="#1ee61e"/><circle cx="137.5" cy="203.12" r="1.05" fill="#1ee61e"/>
<path d="M38.6,198.37V201.8M37.25,198.37h2.7M37.25,201.8h2.7M42.9,193.29V197.79M41.55,193.29h2.7M41.55,197.79h2.7M47.2,192.67V196.88M45.85,192.67h2.7M45.85,196.88h2.7M51.5,199.56V203.64M50.15,199.56h2.7M50.15,203.64h2.7M55.8,196.72V201.93M54.45,196.72h2.7M54.45,201.93h2.7M60.1,201.36V206.39M58.75,201.36h2.7M58.75,206.39h2.7M64.4,218.39V221.2M63.05,218.39h2.7M63.05,221.2h2.7M68.7,213.84V216.65M67.35,213.84h2.7M67.35,216.65h2.7M73,207.59V210.77M71.65,207.59h2.7M71.65,210.77h2.7M77.3,213.96V216.53M75.95,213.96h2.7M75.95,216.53h2.7M81.6,216.16V220.39M80.25,216.16h2.7M80.25,220.39h2.7M85.9,206.76V211.6M84.55,206.76h2.7M84.55,211.6h2.7M90.2,209.51V213.4M88.85,209.51h2.7M88.85,213.4h2.7M94.5,205.37V208.44M93.15,205.37h2.7M93.15,208.44h2.7M98.8,221.55V227.13M97.45,221.55h2.7M97.45,227.13h2.7M103.1,221.86V226.82M101.75,221.86h2.7M101.75,226.82h2.7M107.4,213.93V219.59M106.05,213.93h2.7M106.05,219.59h2.7M111.7,214.77V220.26M110.35,214.77h2.7M110.35,220.26h2.7M116,208.86V212.53M114.65,208.86h2.7M114.65,212.53h2.7M120.3,206.65V211.71M118.95,206.65h2.7M118.95,211.71h2.7M124.6,209.17V213.74M123.25,209.17h2.7M123.25,213.74h2.7M128.9,207.13V211.23M127.55,207.13h2.7M127.55,211.23h2.7M133.2,209.9V213.01M131.85,209.9h2.7M131.85,213.01h2.7M137.5,206.06V210.78M136.15,206.06h2.7M136.15,210.78h2.7" stroke="#ff1f1f" stroke-width="0.55" fill="none" opacity="0.8"/>
<path d="M38.6,200.08L42.9,195.54L47.2,194.78L51.5,201.6L55.8,199.33L60.1,203.87L64.4,219.79L68.7,215.24L73,209.18L77.3,215.24L81.6,218.28L85.9,209.18L90.2,211.45L94.5,206.91L98.8,224.34L103.1,224.34L107.4,216.76L111.7,217.52L116,210.7L120.3,209.18L124.6,211.45L128.9,209.18L133.2,211.45L137.5,208.42" stroke="#ff1f1f" stroke-width="0.95" fill="none" stroke-linejoin="round"/>
<circle cx="38.6" cy="200.08" r="1.05" fill="#ff1f1f"/><circle cx="42.9" cy="195.54" r="1.05" fill="#ff1f1f"/><circle cx="47.2" cy="194.78" r="1.05" fill="#ff1f1f"/><circle cx="51.5" cy="201.6" r="1.05" fill="#ff1f1f"/><circle cx="55.8" cy="199.33" r="1.05" fill="#ff1f1f"/><circle cx="60.1" cy="203.87" r="1.05" fill="#ff1f1f"/><circle cx="64.4" cy="219.79" r="1.05" fill="#ff1f1f"/><circle cx="68.7" cy="215.24" r="1.05" fill="#ff1f1f"/><circle cx="73" cy="209.18" r="1.05" fill="#ff1f1f"/><circle cx="77.3" cy="215.24" r="1.05" fill="#ff1f1f"/><circle cx="81.6" cy="218.28" r="1.05" fill="#ff1f1f"/><circle cx="85.9" cy="209.18" r="1.05" fill="#ff1f1f"/><circle cx="90.2" cy="211.45" r="1.05" fill="#ff1f1f"/><circle cx="94.5" cy="206.91" r="1.05" fill="#ff1f1f"/><circle cx="98.8" cy="224.34" r="1.05" fill="#ff1f1f"/><circle cx="103.1" cy="224.34" r="1.05" fill="#ff1f1f"/><circle cx="107.4" cy="216.76" r="1.05" fill="#ff1f1f"/><circle cx="111.7" cy="217.52" r="1.05" fill="#ff1f1f"/><circle cx="116" cy="210.7" r="1.05" fill="#ff1f1f"/><circle cx="120.3" cy="209.18" r="1.05" fill="#ff1f1f"/><circle cx="124.6" cy="211.45" r="1.05" fill="#ff1f1f"/><circle cx="128.9" cy="209.18" r="1.05" fill="#ff1f1f"/><circle cx="133.2" cy="211.45" r="1.05" fill="#ff1f1f"/><circle cx="137.5" cy="208.42" r="1.05" fill="#ff1f1f"/>
<path d="M38.6,200.9V203.81M37.25,200.9h2.7M37.25,203.81h2.7M42.9,197.26V201.39M41.55,197.26h2.7M41.55,201.39h2.7M47.2,188.66V193.31M45.85,188.66h2.7M45.85,193.31h2.7M51.5,196.76V201.89M50.15,196.76h2.7M50.15,201.89h2.7M55.8,200.51V205.72M54.45,200.51h2.7M54.45,205.72h2.7M60.1,207.48V210.88M58.75,207.48h2.7M58.75,210.88h2.7M64.4,218.58V222.52M63.05,218.58h2.7M63.05,222.52h2.7M68.7,219.23V223.39M67.35,219.23h2.7M67.35,223.39h2.7M73,216.64V221.43M71.65,216.64h2.7M71.65,221.43h2.7M77.3,217.64V220.42M75.95,217.64h2.7M75.95,220.42h2.7M81.6,218.93V222.17M80.25,218.93h2.7M80.25,222.17h2.7M85.9,212.86V217.63M84.55,212.86h2.7M84.55,217.63h2.7M90.2,216.21V218.83M88.85,216.21h2.7M88.85,218.83h2.7M94.5,209.78V213.13M93.15,209.78h2.7M93.15,213.13h2.7M98.8,209.65V214.78M97.45,209.65h2.7M97.45,214.78h2.7M103.1,219.5V223.11M101.75,219.5h2.7M101.75,223.11h2.7M107.4,223.3V228.41M106.05,223.3h2.7M106.05,228.41h2.7M111.7,217.88V221.7M110.35,217.88h2.7M110.35,221.7h2.7M116,211.18V216.27M114.65,211.18h2.7M114.65,216.27h2.7M120.3,208.31V211.57M118.95,208.31h2.7M118.95,211.57h2.7M124.6,206.73V210.11M123.25,206.73h2.7M123.25,210.11h2.7M128.9,204.85V207.45M127.55,204.85h2.7M127.55,207.45h2.7M133.2,204.42V209.4M131.85,204.42h2.7M131.85,209.4h2.7M137.5,200.34V205.89M136.15,200.34h2.7M136.15,205.89h2.7" stroke="#1f1fff" stroke-width="0.55" fill="none" opacity="0.8"/>
<path d="M38.6,202.36L42.9,199.33L47.2,190.99L51.5,199.33L55.8,203.12L60.1,209.18L64.4,220.55L68.7,221.31L73,219.03L77.3,219.03L81.6,220.55L85.9,215.24L90.2,217.52L94.5,211.45L98.8,212.21L103.1,221.31L107.4,225.86L111.7,219.79L116,213.73L120.3,209.94L124.6,208.42L128.9,206.15L133.2,206.91L137.5,203.12" stroke="#1f1fff" stroke-width="0.95" fill="none" stroke-linejoin="round"/>
<circle cx="38.6" cy="202.36" r="1.05" fill="#1f1fff"/><circle cx="42.9" cy="199.33" r="1.05" fill="#1f1fff"/><circle cx="47.2" cy="190.99" r="1.05" fill="#1f1fff"/><circle cx="51.5" cy="199.33" r="1.05" fill="#1f1fff"/><circle cx="55.8" cy="203.12" r="1.05" fill="#1f1fff"/><circle cx="60.1" cy="209.18" r="1.05" fill="#1f1fff"/><circle cx="64.4" cy="220.55" r="1.05" fill="#1f1fff"/><circle cx="68.7" cy="221.31" r="1.05" fill="#1f1fff"/><circle cx="73" cy="219.03" r="1.05" fill="#1f1fff"/><circle cx="77.3" cy="219.03" r="1.05" fill="#1f1fff"/><circle cx="81.6" cy="220.55" r="1.05" fill="#1f1fff"/><circle cx="85.9" cy="215.24" r="1.05" fill="#1f1fff"/><circle cx="90.2" cy="217.52" r="1.05" fill="#1f1fff"/><circle cx="94.5" cy="211.45" r="1.05" fill="#1f1fff"/><circle cx="98.8" cy="212.21" r="1.05" fill="#1f1fff"/><circle cx="103.1" cy="221.31" r="1.05" fill="#1f1fff"/><circle cx="107.4" cy="225.86" r="1.05" fill="#1f1fff"/><circle cx="111.7" cy="219.79" r="1.05" fill="#1f1fff"/><circle cx="116" cy="213.73" r="1.05" fill="#1f1fff"/><circle cx="120.3" cy="209.94" r="1.05" fill="#1f1fff"/><circle cx="124.6" cy="208.42" r="1.05" fill="#1f1fff"/><circle cx="128.9" cy="206.15" r="1.05" fill="#1f1fff"/><circle cx="133.2" cy="206.91" r="1.05" fill="#1f1fff"/><circle cx="137.5" cy="203.12" r="1.05" fill="#1f1fff"/>
<path d="M38.6,194.61V197.98M37.25,194.61h2.7M37.25,197.98h2.7M42.9,186.97V191.98M41.55,186.97h2.7M41.55,191.98h2.7M47.2,193.86V197.21M45.85,193.86h2.7M45.85,197.21h2.7M51.5,209.51V214.92M50.15,209.51h2.7M50.15,214.92h2.7M55.8,217.84V221.75M54.45,217.84h2.7M54.45,221.75h2.7M60.1,225.85V230.41M58.75,225.85h2.7M58.75,230.41h2.7M64.4,221.4V227.28M63.05,221.4h2.7M63.05,227.28h2.7M68.7,214.4V219.12M67.35,214.4h2.7M67.35,219.12h2.7M73,207.33V211.03M71.65,207.33h2.7M71.65,211.03h2.7M77.3,202.69V206.57M75.95,202.69h2.7M75.95,206.57h2.7M81.6,199.59V203.61M80.25,199.59h2.7M80.25,203.61h2.7M85.9,196.92V200.22M84.55,196.92h2.7M84.55,200.22h2.7M90.2,197.76V202.41M88.85,197.76h2.7M88.85,202.41h2.7M94.5,200.98V205.25M93.15,200.98h2.7M93.15,205.25h2.7M98.8,213.25V217.24M97.45,213.25h2.7M97.45,217.24h2.7M103.1,220.62V225.03M101.75,220.62h2.7M101.75,225.03h2.7M107.4,229.11V231.7M106.05,229.11h2.7M106.05,231.7h2.7M111.7,226.71V229.55M110.35,226.71h2.7M110.35,229.55h2.7M116,218.7V223.91M114.65,218.7h2.7M114.65,223.91h2.7M120.3,216.25V221.82M118.95,216.25h2.7M118.95,221.82h2.7M124.6,212.32V215.14M123.25,212.32h2.7M123.25,215.14h2.7M128.9,206.97V209.87M127.55,206.97h2.7M127.55,209.87h2.7M133.2,203.05V206.21M131.85,203.05h2.7M131.85,206.21h2.7M137.5,196.71V200.42M136.15,196.71h2.7M136.15,200.42h2.7" stroke="#111111" stroke-width="0.55" fill="none" opacity="0.8"/>
<path d="M38.6,196.29L42.9,189.47L47.2,195.54L51.5,212.21L55.8,219.79L60.1,228.13L64.4,224.34L68.7,216.76L73,209.18L77.3,204.63L81.6,201.6L85.9,198.57L90.2,200.08L94.5,203.12L98.8,215.24L103.1,222.82L107.4,230.4L111.7,228.13L116,221.31L120.3,219.03L124.6,213.73L128.9,208.42L133.2,204.63L137.5,198.57" stroke="#111111" stroke-width="0.95" fill="none" stroke-linejoin="round"/>
<circle cx="38.6" cy="196.29" r="1.05" fill="#111111"/><circle cx="42.9" cy="189.47" r="1.05" fill="#111111"/><circle cx="47.2" cy="195.54" r="1.05" fill="#111111"/><circle cx="51.5" cy="212.21" r="1.05" fill="#111111"/><circle cx="55.8" cy="219.79" r="1.05" fill="#111111"/><circle cx="60.1" cy="228.13" r="1.05" fill="#111111"/><circle cx="64.4" cy="224.34" r="1.05" fill="#111111"/><circle cx="68.7" cy="216.76" r="1.05" fill="#111111"/><circle cx="73" cy="209.18" r="1.05" fill="#111111"/><circle cx="77.3" cy="204.63" r="1.05" fill="#111111"/><circle cx="81.6" cy="201.6" r="1.05" fill="#111111"/><circle cx="85.9" cy="198.57" r="1.05" fill="#111111"/><circle cx="90.2" cy="200.08" r="1.05" fill="#111111"/><circle cx="94.5" cy="203.12" r="1.05" fill="#111111"/><circle cx="98.8" cy="215.24" r="1.05" fill="#111111"/><circle cx="103.1" cy="222.82" r="1.05" fill="#111111"/><circle cx="107.4" cy="230.4" r="1.05" fill="#111111"/><circle cx="111.7" cy="228.13" r="1.05" fill="#111111"/><circle cx="116" cy="221.31" r="1.05" fill="#111111"/><circle cx="120.3" cy="219.03" r="1.05" fill="#111111"/><circle cx="124.6" cy="213.73" r="1.05" fill="#111111"/><circle cx="128.9" cy="208.42" r="1.05" fill="#111111"/><circle cx="133.2" cy="204.63" r="1.05" fill="#111111"/><circle cx="137.5" cy="198.57" r="1.05" fill="#111111"/>
<path d="M141.3,168.5h8.3" stroke="#19eef2" stroke-width="1.15"/>
<circle cx="145.45" cy="168.5" r="1.26" fill="#19eef2"/>
<path d="M141.3,179.15h8.3" stroke="#1ee61e" stroke-width="1.15"/>
<circle cx="145.45" cy="179.15" r="1.26" fill="#1ee61e"/>
<path d="M141.3,189.8h8.3" stroke="#ff1f1f" stroke-width="1.15"/>
<circle cx="145.45" cy="189.8" r="1.26" fill="#ff1f1f"/>
<path d="M141.3,200.45h8.3" stroke="#1f1fff" stroke-width="1.15"/>
<circle cx="145.45" cy="200.45" r="1.26" fill="#1f1fff"/>
<path d="M141.3,211.1h8.3" stroke="#111111" stroke-width="1.15"/>
<circle cx="145.45" cy="211.1" r="1.26" fill="#111111"/>
<path d="M207.6,177.97V182.97M206.25,177.97h2.7M206.25,182.97h2.7M211.88,181.76V186.73M210.53,181.76h2.7M210.53,186.73h2.7M216.16,193.37V197.78M214.81,193.37h2.7M214.81,197.78h2.7M220.44,190.35V197.02M219.09,190.35h2.7M219.09,197.02h2.7M224.72,196.54V204.05M223.37,196.54h2.7M223.37,204.05h2.7M229,217.95V222.29M227.65,217.95h2.7M227.65,222.29h2.7M233.28,213.8V220.78M231.93,213.8h2.7M231.93,220.78h2.7M237.56,211.02V216.01M236.21,211.02h2.7M236.21,216.01h2.7M241.84,201.01V205.25M240.49,201.01h2.7M240.49,205.25h2.7M246.12,201.29V204.97M244.77,201.29h2.7M244.77,204.97h2.7M250.4,198.24V202.35M249.05,198.24h2.7M249.05,202.35h2.7M254.68,194.8V202.01M253.33,194.8h2.7M253.33,202.01h2.7M258.96,197.38V201.32M257.61,197.38h2.7M257.61,201.32h2.7M263.24,198.73V203.75M261.89,198.73h2.7M261.89,203.75h2.7M267.52,206.97V210.61M266.17,206.97h2.7M266.17,210.61h2.7M271.8,217.52V222.72M270.45,217.52h2.7M270.45,222.72h2.7M276.08,211.77V215.25M274.73,211.77h2.7M274.73,215.25h2.7M280.36,204.02V207.9M279.01,204.02h2.7M279.01,207.9h2.7M284.64,204.59V211.1M283.29,204.59h2.7M283.29,211.1h2.7M288.92,204.75V209.06M287.57,204.75h2.7M287.57,209.06h2.7M293.2,197.45V205.03M291.85,197.45h2.7M291.85,205.03h2.7M297.48,193.38V197.77M296.13,193.38h2.7M296.13,197.77h2.7M301.76,194.37V198.67M300.41,194.37h2.7M300.41,198.67h2.7M306.04,193.46V197.7M304.69,193.46h2.7M304.69,197.7h2.7" stroke="#f2188c" stroke-width="0.55" fill="none" opacity="0.8"/>
<path d="M207.6,180.47L211.88,184.25L216.16,195.58L220.44,193.69L224.72,200.3L229,220.12L233.28,217.29L237.56,213.51L241.84,203.13L246.12,203.13L250.4,200.3L254.68,198.41L258.96,199.35L263.24,201.24L267.52,208.79L271.8,220.12L276.08,213.51L280.36,205.96L284.64,207.85L288.92,206.9L293.2,201.24L297.48,195.58L301.76,196.52L306.04,195.58" stroke="#f2188c" stroke-width="0.95" fill="none" stroke-linejoin="round"/>
<path d="M207.6,178.62L209.45,180.47L207.6,182.32L205.75,180.47Z" fill="#f2188c"/><path d="M211.88,182.4L213.73,184.25L211.88,186.1L210.03,184.25Z" fill="#f2188c"/><path d="M216.16,193.73L218.01,195.58L216.16,197.43L214.31,195.58Z" fill="#f2188c"/><path d="M220.44,191.84L222.29,193.69L220.44,195.54L218.59,193.69Z" fill="#f2188c"/><path d="M224.72,198.45L226.57,200.3L224.72,202.15L222.87,200.3Z" fill="#f2188c"/><path d="M229,218.27L230.85,220.12L229,221.97L227.15,220.12Z" fill="#f2188c"/><path d="M233.28,215.44L235.13,217.29L233.28,219.14L231.43,217.29Z" fill="#f2188c"/><path d="M237.56,211.66L239.41,213.51L237.56,215.36L235.71,213.51Z" fill="#f2188c"/><path d="M241.84,201.28L243.69,203.13L241.84,204.98L239.99,203.13Z" fill="#f2188c"/><path d="M246.12,201.28L247.97,203.13L246.12,204.98L244.27,203.13Z" fill="#f2188c"/><path d="M250.4,198.45L252.25,200.3L250.4,202.15L248.55,200.3Z" fill="#f2188c"/><path d="M254.68,196.56L256.53,198.41L254.68,200.26L252.83,198.41Z" fill="#f2188c"/><path d="M258.96,197.5L260.81,199.35L258.96,201.2L257.11,199.35Z" fill="#f2188c"/><path d="M263.24,199.39L265.09,201.24L263.24,203.09L261.39,201.24Z" fill="#f2188c"/><path d="M267.52,206.94L269.37,208.79L267.52,210.64L265.67,208.79Z" fill="#f2188c"/><path d="M271.8,218.27L273.65,220.12L271.8,221.97L269.95,220.12Z" fill="#f2188c"/><path d="M276.08,211.66L277.93,213.51L276.08,215.36L274.23,213.51Z" fill="#f2188c"/><path d="M280.36,204.11L282.21,205.96L280.36,207.81L278.51,205.96Z" fill="#f2188c"/><path d="M284.64,206L286.49,207.85L284.64,209.7L282.79,207.85Z" fill="#f2188c"/><path d="M288.92,205.05L290.77,206.9L288.92,208.75L287.07,206.9Z" fill="#f2188c"/><path d="M293.2,199.39L295.05,201.24L293.2,203.09L291.35,201.24Z" fill="#f2188c"/><path d="M297.48,193.73L299.33,195.58L297.48,197.43L295.63,195.58Z" fill="#f2188c"/><path d="M301.76,194.67L303.61,196.52L301.76,198.37L299.91,196.52Z" fill="#f2188c"/><path d="M306.04,193.73L307.89,195.58L306.04,197.43L304.19,195.58Z" fill="#f2188c"/>
<path d="M207.6,177.45V181.61M206.25,177.45h2.7M206.25,181.61h2.7M211.88,171.83V177.79M210.53,171.83h2.7M210.53,177.79h2.7M216.16,169.2V176.64M214.81,169.2h2.7M214.81,176.64h2.7M220.44,175.85V179.43M219.09,175.85h2.7M219.09,179.43h2.7M224.72,180.33V188.17M223.37,180.33h2.7M223.37,188.17h2.7M229,197.46V203.13M227.65,197.46h2.7M227.65,203.13h2.7M233.28,211.95V216.96M231.93,211.95h2.7M231.93,216.96h2.7M237.56,207.59V211.88M236.21,207.59h2.7M236.21,211.88h2.7M241.84,202.17V207.86M240.49,202.17h2.7M240.49,207.86h2.7M246.12,204.86V212.72M244.77,204.86h2.7M244.77,212.72h2.7M250.4,188.66V194.94M249.05,188.66h2.7M249.05,194.94h2.7M254.68,185.97V190.08M253.33,185.97h2.7M253.33,190.08h2.7M258.96,186.06V189.99M257.61,186.06h2.7M257.61,189.99h2.7M263.24,181.28V185.33M261.89,181.28h2.7M261.89,185.33h2.7M267.52,192.85V196.42M266.17,192.85h2.7M266.17,196.42h2.7M271.8,212.81V219.88M270.45,212.81h2.7M270.45,219.88h2.7M276.08,215.05V221.42M274.73,215.05h2.7M274.73,221.42h2.7M280.36,207.76V211.72M279.01,207.76h2.7M279.01,211.72h2.7M284.64,193.25V199.79M283.29,193.25h2.7M283.29,199.79h2.7M288.92,190.1V193.5M287.57,190.1h2.7M287.57,193.5h2.7M293.2,186.06V189.99M291.85,186.06h2.7M291.85,189.99h2.7M297.48,184.39V189.77M296.13,184.39h2.7M296.13,189.77h2.7M301.76,181.02V187.48M300.41,181.02h2.7M300.41,187.48h2.7M306.04,177.46V181.6M304.69,177.46h2.7M304.69,181.6h2.7" stroke="#fb8c1c" stroke-width="0.55" fill="none" opacity="0.8"/>
<path d="M207.6,179.53L211.88,174.81L216.16,172.92L220.44,177.64L224.72,184.25L229,200.3L233.28,214.46L237.56,209.74L241.84,205.02L246.12,208.79L250.4,191.8L254.68,188.02L258.96,188.02L263.24,183.3L267.52,194.63L271.8,216.34L276.08,218.23L280.36,209.74L284.64,196.52L288.92,191.8L293.2,188.02L297.48,187.08L301.76,184.25L306.04,179.53" stroke="#fb8c1c" stroke-width="0.95" fill="none" stroke-linejoin="round"/>
<rect x="206.15" y="178.08" width="2.9" height="2.9" fill="#fb8c1c"/><rect x="210.43" y="173.36" width="2.9" height="2.9" fill="#fb8c1c"/><rect x="214.71" y="171.47" width="2.9" height="2.9" fill="#fb8c1c"/><rect x="218.99" y="176.19" width="2.9" height="2.9" fill="#fb8c1c"/><rect x="223.27" y="182.8" width="2.9" height="2.9" fill="#fb8c1c"/><rect x="227.55" y="198.85" width="2.9" height="2.9" fill="#fb8c1c"/><rect x="231.83" y="213.01" width="2.9" height="2.9" fill="#fb8c1c"/><rect x="236.11" y="208.29" width="2.9" height="2.9" fill="#fb8c1c"/><rect x="240.39" y="203.57" width="2.9" height="2.9" fill="#fb8c1c"/><rect x="244.67" y="207.34" width="2.9" height="2.9" fill="#fb8c1c"/><rect x="248.95" y="190.35" width="2.9" height="2.9" fill="#fb8c1c"/><rect x="253.23" y="186.57" width="2.9" height="2.9" fill="#fb8c1c"/><rect x="257.51" y="186.57" width="2.9" height="2.9" fill="#fb8c1c"/><rect x="261.79" y="181.85" width="2.9" height="2.9" fill="#fb8c1c"/><rect x="266.07" y="193.18" width="2.9" height="2.9" fill="#fb8c1c"/><rect x="270.35" y="214.89" width="2.9" height="2.9" fill="#fb8c1c"/><rect x="274.63" y="216.78" width="2.9" height="2.9" fill="#fb8c1c"/><rect x="278.91" y="208.29" width="2.9" height="2.9" fill="#fb8c1c"/><rect x="283.19" y="195.07" width="2.9" height="2.9" fill="#fb8c1c"/><rect x="287.47" y="190.35" width="2.9" height="2.9" fill="#fb8c1c"/><rect x="291.75" y="186.57" width="2.9" height="2.9" fill="#fb8c1c"/><rect x="296.03" y="185.63" width="2.9" height="2.9" fill="#fb8c1c"/><rect x="300.31" y="182.8" width="2.9" height="2.9" fill="#fb8c1c"/><rect x="304.59" y="178.08" width="2.9" height="2.9" fill="#fb8c1c"/>
<path d="M207.6,193.27V199.77M206.25,193.27h2.7M206.25,199.77h2.7M211.88,182.75V189.52M210.53,182.75h2.7M210.53,189.52h2.7M216.16,189.47V194.13M214.81,189.47h2.7M214.81,194.13h2.7M220.44,209.57V217.45M219.09,209.57h2.7M219.09,217.45h2.7M224.72,218.49V225.52M223.37,218.49h2.7M223.37,225.52h2.7M229,216.22V222.13M227.65,216.22h2.7M227.65,222.13h2.7M233.28,214.29V218.4M231.93,214.29h2.7M231.93,218.4h2.7M237.56,214.3V220.28M236.21,214.3h2.7M236.21,220.28h2.7M241.84,209.74V213.51M240.49,209.74h2.7M240.49,213.51h2.7M246.12,202.77V209.15M244.77,202.77h2.7M244.77,209.15h2.7M250.4,210.57V214.57M249.05,210.57h2.7M249.05,214.57h2.7M254.68,206.53V212.94M253.33,206.53h2.7M253.33,212.94h2.7M258.96,213.27V219.41M257.61,213.27h2.7M257.61,219.41h2.7M263.24,209.71V215.43M261.89,209.71h2.7M261.89,215.43h2.7M267.52,215.95V222.4M266.17,215.95h2.7M266.17,222.4h2.7M271.8,216.11V222.24M270.45,216.11h2.7M270.45,222.24h2.7M276.08,222.52V229.05M274.73,222.52h2.7M274.73,229.05h2.7M280.36,225.96V229.38M279.01,225.96h2.7M279.01,229.38h2.7M284.64,220.79V227M283.29,220.79h2.7M283.29,227h2.7M288.92,212.76V219.93M287.57,212.76h2.7M287.57,219.93h2.7M293.2,213.72V218.97M291.85,213.72h2.7M291.85,218.97h2.7M297.48,203.23V206.8M296.13,203.23h2.7M296.13,206.8h2.7M301.76,205.02V212.56M300.41,205.02h2.7M300.41,212.56h2.7M306.04,198.12V204.36M304.69,198.12h2.7M304.69,204.36h2.7" stroke="#17935a" stroke-width="0.55" fill="none" opacity="0.8"/>
<path d="M207.6,196.52L211.88,186.14L216.16,191.8L220.44,213.51L224.72,222.01L229,219.18L233.28,216.34L237.56,217.29L241.84,211.62L246.12,205.96L250.4,212.57L254.68,209.74L258.96,216.34L263.24,212.57L267.52,219.18L271.8,219.18L276.08,225.78L280.36,227.67L284.64,223.9L288.92,216.34L293.2,216.34L297.48,205.02L301.76,208.79L306.04,201.24" stroke="#17935a" stroke-width="0.95" fill="none" stroke-linejoin="round"/>
<path d="M207.6,194.97L209.15,197.68L206.05,197.68Z" fill="#17935a"/><path d="M211.88,184.59L213.43,187.3L210.33,187.3Z" fill="#17935a"/><path d="M216.16,190.25L217.71,192.96L214.61,192.96Z" fill="#17935a"/><path d="M220.44,211.96L221.99,214.67L218.89,214.67Z" fill="#17935a"/><path d="M224.72,220.46L226.27,223.17L223.17,223.17Z" fill="#17935a"/><path d="M229,217.63L230.55,220.34L227.45,220.34Z" fill="#17935a"/><path d="M233.28,214.79L234.83,217.51L231.73,217.51Z" fill="#17935a"/><path d="M237.56,215.74L239.11,218.45L236.01,218.45Z" fill="#17935a"/><path d="M241.84,210.07L243.39,212.79L240.29,212.79Z" fill="#17935a"/><path d="M246.12,204.41L247.67,207.12L244.57,207.12Z" fill="#17935a"/><path d="M250.4,211.02L251.95,213.73L248.85,213.73Z" fill="#17935a"/><path d="M254.68,208.19L256.23,210.9L253.13,210.9Z" fill="#17935a"/><path d="M258.96,214.79L260.51,217.51L257.41,217.51Z" fill="#17935a"/><path d="M263.24,211.02L264.79,213.73L261.69,213.73Z" fill="#17935a"/><path d="M267.52,217.63L269.07,220.34L265.97,220.34Z" fill="#17935a"/><path d="M271.8,217.63L273.35,220.34L270.25,220.34Z" fill="#17935a"/><path d="M276.08,224.23L277.63,226.95L274.53,226.95Z" fill="#17935a"/><path d="M280.36,226.12L281.91,228.83L278.81,228.83Z" fill="#17935a"/><path d="M284.64,222.35L286.19,225.06L283.09,225.06Z" fill="#17935a"/><path d="M288.92,214.79L290.47,217.51L287.37,217.51Z" fill="#17935a"/><path d="M293.2,214.79L294.75,217.51L291.65,217.51Z" fill="#17935a"/><path d="M297.48,203.47L299.03,206.18L295.93,206.18Z" fill="#17935a"/><path d="M301.76,207.24L303.31,209.95L300.21,209.95Z" fill="#17935a"/><path d="M306.04,199.69L307.59,202.4L304.49,202.4Z" fill="#17935a"/>
<path d="M319.9,168.7h8.3" stroke="#f2188c" stroke-width="1.15"/>
<path d="M324.05,166.85L325.9,168.7L324.05,170.55L322.2,168.7Z" fill="#f2188c"/>
<path d="M319.9,179.1h8.3" stroke="#fb8c1c" stroke-width="1.15"/>
<rect x="322.6" y="177.65" width="2.9" height="2.9" fill="#fb8c1c"/>
<path d="M319.9,189.5h8.3" stroke="#17935a" stroke-width="1.15"/>
<path d="M324.05,187.95L325.6,190.66L322.5,190.66Z" fill="#17935a"/>
<path d="M39.3,346.99V355.85M37.95,346.99h2.7M37.95,355.85h2.7M43.58,352.66V357.75M42.23,352.66h2.7M42.23,357.75h2.7M47.86,342.07V348.66M46.51,342.07h2.7M46.51,348.66h2.7M52.14,334.1V338.46M50.79,334.1h2.7M50.79,338.46h2.7M56.42,318.23V326.32M55.07,318.23h2.7M55.07,326.32h2.7M60.7,315.72V321.26M59.35,315.72h2.7M59.35,321.26h2.7M64.98,328.24V336M63.63,328.24h2.7M63.63,336h2.7M69.26,338.3V343.34M67.91,338.3h2.7M67.91,343.34h2.7M73.54,332.09V338.96M72.19,332.09h2.7M72.19,338.96h2.7M77.82,332.72V336.81M76.47,332.72h2.7M76.47,336.81h2.7M82.1,331.74V337.79M80.75,331.74h2.7M80.75,337.79h2.7M86.38,332.85V341.22M85.03,332.85h2.7M85.03,341.22h2.7M90.66,338.05V343.6M89.31,338.05h2.7M89.31,343.6h2.7M94.94,346.5V354.82M93.59,346.5h2.7M93.59,354.82h2.7M99.22,347.11V352.7M97.87,347.11h2.7M97.87,352.7h2.7M103.5,343.94V351.33M102.15,343.94h2.7M102.15,351.33h2.7M107.78,343.88V349.88M106.43,343.88h2.7M106.43,349.88h2.7M112.06,345.15V354.66M110.71,345.15h2.7M110.71,354.66h2.7M116.34,344.35V352.43M114.99,344.35h2.7M114.99,352.43h2.7M120.62,346.7V356.14M119.27,346.7h2.7M119.27,356.14h2.7M124.9,346.63V351.67M123.55,346.63h2.7M123.55,351.67h2.7M129.18,347.9V354.94M127.83,347.9h2.7M127.83,354.94h2.7M133.46,343.24V350.52M132.11,343.24h2.7M132.11,350.52h2.7M137.74,347.86V351.96M136.39,347.86h2.7M136.39,351.96h2.7" stroke="#19eef2" stroke-width="0.55" fill="none" opacity="0.8"/>
<path d="M39.3,351.42L43.58,355.2L47.86,345.36L52.14,336.28L56.42,322.28L60.7,318.49L64.98,332.12L69.26,340.82L73.54,335.52L77.82,334.77L82.1,334.77L86.38,337.04L90.66,340.82L94.94,350.66L99.22,349.91L103.5,347.63L107.78,346.88L112.06,349.91L116.34,348.39L120.62,351.42L124.9,349.15L129.18,351.42L133.46,346.88L137.74,349.91" stroke="#19eef2" stroke-width="0.95" fill="none" stroke-linejoin="round"/>
<circle cx="39.3" cy="351.42" r="1.05" fill="#19eef2"/><circle cx="43.58" cy="355.2" r="1.05" fill="#19eef2"/><circle cx="47.86" cy="345.36" r="1.05" fill="#19eef2"/><circle cx="52.14" cy="336.28" r="1.05" fill="#19eef2"/><circle cx="56.42" cy="322.28" r="1.05" fill="#19eef2"/><circle cx="60.7" cy="318.49" r="1.05" fill="#19eef2"/><circle cx="64.98" cy="332.12" r="1.05" fill="#19eef2"/><circle cx="69.26" cy="340.82" r="1.05" fill="#19eef2"/><circle cx="73.54" cy="335.52" r="1.05" fill="#19eef2"/><circle cx="77.82" cy="334.77" r="1.05" fill="#19eef2"/><circle cx="82.1" cy="334.77" r="1.05" fill="#19eef2"/><circle cx="86.38" cy="337.04" r="1.05" fill="#19eef2"/><circle cx="90.66" cy="340.82" r="1.05" fill="#19eef2"/><circle cx="94.94" cy="350.66" r="1.05" fill="#19eef2"/><circle cx="99.22" cy="349.91" r="1.05" fill="#19eef2"/><circle cx="103.5" cy="347.63" r="1.05" fill="#19eef2"/><circle cx="107.78" cy="346.88" r="1.05" fill="#19eef2"/><circle cx="112.06" cy="349.91" r="1.05" fill="#19eef2"/><circle cx="116.34" cy="348.39" r="1.05" fill="#19eef2"/><circle cx="120.62" cy="351.42" r="1.05" fill="#19eef2"/><circle cx="124.9" cy="349.15" r="1.05" fill="#19eef2"/><circle cx="129.18" cy="351.42" r="1.05" fill="#19eef2"/><circle cx="133.46" cy="346.88" r="1.05" fill="#19eef2"/><circle cx="137.74" cy="349.91" r="1.05" fill="#19eef2"/>
<path d="M39.3,347.28V352.53M37.95,347.28h2.7M37.95,352.53h2.7M43.58,348.29V353.03M42.23,348.29h2.7M42.23,353.03h2.7M47.86,341.82V348.91M46.51,341.82h2.7M46.51,348.91h2.7M52.14,339.9V346.28M50.79,339.9h2.7M50.79,346.28h2.7M56.42,331.54V339.51M55.07,331.54h2.7M55.07,339.51h2.7M60.7,328.82V333.14M59.35,328.82h2.7M59.35,333.14h2.7M64.98,318.65V325.9M63.63,318.65h2.7M63.63,325.9h2.7M69.26,334.88V340.71M67.91,334.88h2.7M67.91,340.71h2.7M73.54,332.83V339.73M72.19,332.83h2.7M72.19,339.73h2.7M77.82,333.36V340.71M76.47,333.36h2.7M76.47,340.71h2.7M82.1,328.7V337.81M80.75,328.7h2.7M80.75,337.81h2.7M86.38,326.29V334.16M85.03,326.29h2.7M85.03,334.16h2.7M90.66,327.18V334.78M89.31,327.18h2.7M89.31,334.78h2.7M94.94,331.67V337.86M93.59,331.67h2.7M93.59,337.86h2.7M99.22,335.72V339.87M97.87,335.72h2.7M97.87,339.87h2.7M103.5,329.68V338.33M102.15,329.68h2.7M102.15,338.33h2.7M107.78,335.65V342.96M106.43,335.65h2.7M106.43,342.96h2.7M112.06,342.85V347.87M110.71,342.85h2.7M110.71,347.87h2.7M116.34,338.87V344.28M114.99,338.87h2.7M114.99,344.28h2.7M120.62,344.82V348.93M119.27,344.82h2.7M119.27,348.93h2.7M124.9,347.5V352.31M123.55,347.5h2.7M123.55,352.31h2.7M129.18,343V350.76M127.83,343h2.7M127.83,350.76h2.7M133.46,347.76V352.05M132.11,347.76h2.7M132.11,352.05h2.7M137.74,349.12V353.72M136.39,349.12h2.7M136.39,353.72h2.7" stroke="#1ee61e" stroke-width="0.55" fill="none" opacity="0.8"/>
<path d="M39.3,349.91L43.58,350.66L47.86,345.36L52.14,343.09L56.42,335.52L60.7,330.98L64.98,322.28L69.26,337.79L73.54,336.28L77.82,337.04L82.1,333.25L86.38,330.22L90.66,330.98L94.94,334.77L99.22,337.79L103.5,334.01L107.78,339.31L112.06,345.36L116.34,341.58L120.62,346.88L124.9,349.91L129.18,346.88L133.46,349.91L137.74,351.42" stroke="#1ee61e" stroke-width="0.95" fill="none" stroke-linejoin="round"/>
<circle cx="39.3" cy="349.91" r="1.05" fill="#1ee61e"/><circle cx="43.58" cy="350.66" r="1.05" fill="#1ee61e"/><circle cx="47.86" cy="345.36" r="1.05" fill="#1ee61e"/><circle cx="52.14" cy="343.09" r="1.05" fill="#1ee61e"/><circle cx="56.42" cy="335.52" r="1.05" fill="#1ee61e"/><circle cx="60.7" cy="330.98" r="1.05" fill="#1ee61e"/><circle cx="64.98" cy="322.28" r="1.05" fill="#1ee61e"/><circle cx="69.26" cy="337.79" r="1.05" fill="#1ee61e"/><circle cx="73.54" cy="336.28" r="1.05" fill="#1ee61e"/><circle cx="77.82" cy="337.04" r="1.05" fill="#1ee61e"/><circle cx="82.1" cy="333.25" r="1.05" fill="#1ee61e"/><circle cx="86.38" cy="330.22" r="1.05" fill="#1ee61e"/><circle cx="90.66" cy="330.98" r="1.05" fill="#1ee61e"/><circle cx="94.94" cy="334.77" r="1.05" fill="#1ee61e"/><circle cx="99.22" cy="337.79" r="1.05" fill="#1ee61e"/><circle cx="103.5" cy="334.01" r="1.05" fill="#1ee61e"/><circle cx="107.78" cy="339.31" r="1.05" fill="#1ee61e"/><circle cx="112.06" cy="345.36" r="1.05" fill="#1ee61e"/><circle cx="116.34" cy="341.58" r="1.05" fill="#1ee61e"/><circle cx="120.62" cy="346.88" r="1.05" fill="#1ee61e"/><circle cx="124.9" cy="349.91" r="1.05" fill="#1ee61e"/><circle cx="129.18" cy="346.88" r="1.05" fill="#1ee61e"/><circle cx="133.46" cy="349.91" r="1.05" fill="#1ee61e"/><circle cx="137.74" cy="351.42" r="1.05" fill="#1ee61e"/>
<path d="M39.3,324.44V352.66M37.95,324.44h2.7M37.95,352.66h2.7M43.58,337.3V356.45M42.23,337.3h2.7M42.23,356.45h2.7M47.86,329.85V351.03M46.51,329.85h2.7M46.51,351.03h2.7M52.14,334.29V351.9M50.79,334.29h2.7M50.79,351.9h2.7M56.42,330.96V349.17M55.07,330.96h2.7M55.07,349.17h2.7M60.7,327.48V333.72M59.35,327.48h2.7M59.35,333.72h2.7M64.98,327.12V337.87M63.63,327.12h2.7M63.63,337.87h2.7M69.26,329.97V342.59M67.91,329.97h2.7M67.91,342.59h2.7M73.54,335.35V347.81M72.19,335.35h2.7M72.19,347.81h2.7M77.82,329.9V341.14M76.47,329.9h2.7M76.47,341.14h2.7M82.1,326.74V339.77M80.75,326.74h2.7M80.75,339.77h2.7M86.38,327.33V339.18M85.03,327.33h2.7M85.03,339.18h2.7M90.66,333.81V346.32M89.31,333.81h2.7M89.31,346.32h2.7M94.94,337.49V345.67M93.59,337.49h2.7M93.59,345.67h2.7M99.22,334.32V344.3M97.87,334.32h2.7M97.87,344.3h2.7M103.5,342.54V351.22M102.15,342.54h2.7M102.15,351.22h2.7M107.78,347.46V353.87M106.43,347.46h2.7M106.43,353.87h2.7M112.06,340.44V351.8M110.71,340.44h2.7M110.71,351.8h2.7M116.34,342.01V353.26M114.99,342.01h2.7M114.99,353.26h2.7M120.62,341.02V352.73M119.27,341.02h2.7M119.27,352.73h2.7M124.9,337.47V350.23M123.55,337.47h2.7M123.55,350.23h2.7M129.18,328.66V352.98M127.83,328.66h2.7M127.83,352.98h2.7M133.46,327.1V348.49M132.11,327.1h2.7M132.11,348.49h2.7M137.74,338.89V351.83M136.39,338.89h2.7M136.39,351.83h2.7" stroke="#ff1f1f" stroke-width="0.55" fill="none" opacity="0.8"/>
<path d="M39.3,338.55L43.58,346.88L47.86,340.44L52.14,343.09L56.42,340.06L60.7,330.6L64.98,332.5L69.26,336.28L73.54,341.58L77.82,335.52L82.1,333.25L86.38,333.25L90.66,340.06L94.94,341.58L99.22,339.31L103.5,346.88L107.78,350.66L112.06,346.12L116.34,347.63L120.62,346.88L124.9,343.85L129.18,340.82L133.46,337.79L137.74,345.36" stroke="#ff1f1f" stroke-width="0.95" fill="none" stroke-linejoin="round"/>
<circle cx="39.3" cy="338.55" r="1.05" fill="#ff1f1f"/><circle cx="43.58" cy="346.88" r="1.05" fill="#ff1f1f"/><circle cx="47.86" cy="340.44" r="1.05" fill="#ff1f1f"/><circle cx="52.14" cy="343.09" r="1.05" fill="#ff1f1f"/><circle cx="56.42" cy="340.06" r="1.05" fill="#ff1f1f"/><circle cx="60.7" cy="330.6" r="1.05" fill="#ff1f1f"/><circle cx="64.98" cy="332.5" r="1.05" fill="#ff1f1f"/><circle cx="69.26" cy="336.28" r="1.05" fill="#ff1f1f"/><circle cx="73.54" cy="341.58" r="1.05" fill="#ff1f1f"/><circle cx="77.82" cy="335.52" r="1.05" fill="#ff1f1f"/><circle cx="82.1" cy="333.25" r="1.05" fill="#ff1f1f"/><circle cx="86.38" cy="333.25" r="1.05" fill="#ff1f1f"/><circle cx="90.66" cy="340.06" r="1.05" fill="#ff1f1f"/><circle cx="94.94" cy="341.58" r="1.05" fill="#ff1f1f"/><circle cx="99.22" cy="339.31" r="1.05" fill="#ff1f1f"/><circle cx="103.5" cy="346.88" r="1.05" fill="#ff1f1f"/><circle cx="107.78" cy="350.66" r="1.05" fill="#ff1f1f"/><circle cx="112.06" cy="346.12" r="1.05" fill="#ff1f1f"/><circle cx="116.34" cy="347.63" r="1.05" fill="#ff1f1f"/><circle cx="120.62" cy="346.88" r="1.05" fill="#ff1f1f"/><circle cx="124.9" cy="343.85" r="1.05" fill="#ff1f1f"/><circle cx="129.18" cy="340.82" r="1.05" fill="#ff1f1f"/><circle cx="133.46" cy="337.79" r="1.05" fill="#ff1f1f"/><circle cx="137.74" cy="345.36" r="1.05" fill="#ff1f1f"/>
<path d="M39.3,352.58V357.83M37.95,352.58h2.7M37.95,357.83h2.7M43.58,348.8V355.56M42.23,348.8h2.7M42.23,355.56h2.7M47.86,349.94V357.44M46.51,349.94h2.7M46.51,357.44h2.7M52.14,344.18V349.57M50.79,344.18h2.7M50.79,349.57h2.7M56.42,336.9V344.75M55.07,336.9h2.7M55.07,344.75h2.7M60.7,326.16V333.53M59.35,326.16h2.7M59.35,333.53h2.7M64.98,329.99V334.24M63.63,329.99h2.7M63.63,334.24h2.7M69.26,330.14V334.85M67.91,330.14h2.7M67.91,334.85h2.7M73.54,332V339.04M72.19,332h2.7M72.19,339.04h2.7M77.82,339.23V345.45M76.47,339.23h2.7M76.47,345.45h2.7M82.1,341.04V348.17M80.75,341.04h2.7M80.75,348.17h2.7M86.38,336.9V343.23M85.03,336.9h2.7M85.03,343.23h2.7M90.66,329.19V334.29M89.31,329.19h2.7M89.31,334.29h2.7M94.94,334.99V340.6M93.59,334.99h2.7M93.59,340.6h2.7M99.22,339.33V348.37M97.87,339.33h2.7M97.87,348.37h2.7M103.5,345.94V353.87M102.15,345.94h2.7M102.15,353.87h2.7M107.78,352.14V356.76M106.43,352.14h2.7M106.43,356.76h2.7M112.06,351.38V359.03M110.71,351.38h2.7M110.71,359.03h2.7M116.34,350V357.39M114.99,350h2.7M114.99,357.39h2.7M120.62,354.1V359.34M119.27,354.1h2.7M119.27,359.34h2.7M124.9,352.13V358.28M123.55,352.13h2.7M123.55,358.28h2.7M129.18,350.79V358.1M127.83,350.79h2.7M127.83,358.1h2.7M133.46,344.95V351.83M132.11,344.95h2.7M132.11,351.83h2.7M137.74,348.21V356.14M136.39,348.21h2.7M136.39,356.14h2.7" stroke="#1f1fff" stroke-width="0.55" fill="none" opacity="0.8"/>
<path d="M39.3,355.2L43.58,352.18L47.86,353.69L52.14,346.88L56.42,340.82L60.7,329.85L64.98,332.12L69.26,332.5L73.54,335.52L77.82,342.34L82.1,344.61L86.38,340.06L90.66,331.74L94.94,337.79L99.22,343.85L103.5,349.91L107.78,354.45L112.06,355.2L116.34,353.69L120.62,356.72L124.9,355.2L129.18,354.45L133.46,348.39L137.74,352.18" stroke="#1f1fff" stroke-width="0.95" fill="none" stroke-linejoin="round"/>
<circle cx="39.3" cy="355.2" r="1.05" fill="#1f1fff"/><circle cx="43.58" cy="352.18" r="1.05" fill="#1f1fff"/><circle cx="47.86" cy="353.69" r="1.05" fill="#1f1fff"/><circle cx="52.14" cy="346.88" r="1.05" fill="#1f1fff"/><circle cx="56.42" cy="340.82" r="1.05" fill="#1f1fff"/><circle cx="60.7" cy="329.85" r="1.05" fill="#1f1fff"/><circle cx="64.98" cy="332.12" r="1.05" fill="#1f1fff"/><circle cx="69.26" cy="332.5" r="1.05" fill="#1f1fff"/><circle cx="73.54" cy="335.52" r="1.05" fill="#1f1fff"/><circle cx="77.82" cy="342.34" r="1.05" fill="#1f1fff"/><circle cx="82.1" cy="344.61" r="1.05" fill="#1f1fff"/><circle cx="86.38" cy="340.06" r="1.05" fill="#1f1fff"/><circle cx="90.66" cy="331.74" r="1.05" fill="#1f1fff"/><circle cx="94.94" cy="337.79" r="1.05" fill="#1f1fff"/><circle cx="99.22" cy="343.85" r="1.05" fill="#1f1fff"/><circle cx="103.5" cy="349.91" r="1.05" fill="#1f1fff"/><circle cx="107.78" cy="354.45" r="1.05" fill="#1f1fff"/><circle cx="112.06" cy="355.2" r="1.05" fill="#1f1fff"/><circle cx="116.34" cy="353.69" r="1.05" fill="#1f1fff"/><circle cx="120.62" cy="356.72" r="1.05" fill="#1f1fff"/><circle cx="124.9" cy="355.2" r="1.05" fill="#1f1fff"/><circle cx="129.18" cy="354.45" r="1.05" fill="#1f1fff"/><circle cx="133.46" cy="348.39" r="1.05" fill="#1f1fff"/><circle cx="137.74" cy="352.18" r="1.05" fill="#1f1fff"/>
<path d="M39.3,345.28V351.5M37.95,345.28h2.7M37.95,351.5h2.7M43.58,345.74V354.07M42.23,345.74h2.7M42.23,354.07h2.7M47.86,342.97V349.27M46.51,342.97h2.7M46.51,349.27h2.7M52.14,328.78V334.69M50.79,328.78h2.7M50.79,334.69h2.7M56.42,332.56V336.97M55.07,332.56h2.7M55.07,336.97h2.7M60.7,338.69V344.47M59.35,338.69h2.7M59.35,344.47h2.7M64.98,332.49V338.56M63.63,332.49h2.7M63.63,338.56h2.7M69.26,333.75V340.33M67.91,333.75h2.7M67.91,340.33h2.7M73.54,331.47V338.82M72.19,331.47h2.7M72.19,338.82h2.7M77.82,328.06V333.9M76.47,328.06h2.7M76.47,333.9h2.7M82.1,327.54V334.43M80.75,327.54h2.7M80.75,334.43h2.7M86.38,329.31V335.68M85.03,329.31h2.7M85.03,335.68h2.7M90.66,328.07V332.38M89.31,328.07h2.7M89.31,332.38h2.7M94.94,316V327.04M93.59,316h2.7M93.59,327.04h2.7M99.22,317.43V328.63M97.87,317.43h2.7M97.87,328.63h2.7M103.5,338.63V344.53M102.15,338.63h2.7M102.15,344.53h2.7M107.78,339.56V348.14M106.43,339.56h2.7M106.43,348.14h2.7M112.06,341.68V349.05M110.71,341.68h2.7M110.71,349.05h2.7M116.34,338.92V345.75M114.99,338.92h2.7M114.99,345.75h2.7M120.62,331.52V339.53M119.27,331.52h2.7M119.27,339.53h2.7M124.9,339.34V345.34M123.55,339.34h2.7M123.55,345.34h2.7M129.18,340.36V345.82M127.83,340.36h2.7M127.83,345.82h2.7M133.46,338.99V345.69M132.11,338.99h2.7M132.11,345.69h2.7M137.74,346.2V350.59M136.39,346.2h2.7M136.39,350.59h2.7" stroke="#111111" stroke-width="0.55" fill="none" opacity="0.8"/>
<path d="M39.3,348.39L43.58,349.91L47.86,346.12L52.14,331.74L56.42,334.77L60.7,341.58L64.98,335.52L69.26,337.04L73.54,335.14L77.82,330.98L82.1,330.98L86.38,332.5L90.66,330.22L94.94,321.52L99.22,323.03L103.5,341.58L107.78,343.85L112.06,345.36L116.34,342.34L120.62,335.52L124.9,342.34L129.18,343.09L133.46,342.34L137.74,348.39" stroke="#111111" stroke-width="0.95" fill="none" stroke-linejoin="round"/>
<circle cx="39.3" cy="348.39" r="1.05" fill="#111111"/><circle cx="43.58" cy="349.91" r="1.05" fill="#111111"/><circle cx="47.86" cy="346.12" r="1.05" fill="#111111"/><circle cx="52.14" cy="331.74" r="1.05" fill="#111111"/><circle cx="56.42" cy="334.77" r="1.05" fill="#111111"/><circle cx="60.7" cy="341.58" r="1.05" fill="#111111"/><circle cx="64.98" cy="335.52" r="1.05" fill="#111111"/><circle cx="69.26" cy="337.04" r="1.05" fill="#111111"/><circle cx="73.54" cy="335.14" r="1.05" fill="#111111"/><circle cx="77.82" cy="330.98" r="1.05" fill="#111111"/><circle cx="82.1" cy="330.98" r="1.05" fill="#111111"/><circle cx="86.38" cy="332.5" r="1.05" fill="#111111"/><circle cx="90.66" cy="330.22" r="1.05" fill="#111111"/><circle cx="94.94" cy="321.52" r="1.05" fill="#111111"/><circle cx="99.22" cy="323.03" r="1.05" fill="#111111"/><circle cx="103.5" cy="341.58" r="1.05" fill="#111111"/><circle cx="107.78" cy="343.85" r="1.05" fill="#111111"/><circle cx="112.06" cy="345.36" r="1.05" fill="#111111"/><circle cx="116.34" cy="342.34" r="1.05" fill="#111111"/><circle cx="120.62" cy="335.52" r="1.05" fill="#111111"/><circle cx="124.9" cy="342.34" r="1.05" fill="#111111"/><circle cx="129.18" cy="343.09" r="1.05" fill="#111111"/><circle cx="133.46" cy="342.34" r="1.05" fill="#111111"/><circle cx="137.74" cy="348.39" r="1.05" fill="#111111"/>
<path d="M141.9,310.9h8.3" stroke="#19eef2" stroke-width="1.15"/>
<circle cx="146.05" cy="310.9" r="1.26" fill="#19eef2"/>
<path d="M141.9,321.58h8.3" stroke="#1ee61e" stroke-width="1.15"/>
<circle cx="146.05" cy="321.58" r="1.26" fill="#1ee61e"/>
<path d="M141.9,332.26h8.3" stroke="#ff1f1f" stroke-width="1.15"/>
<circle cx="146.05" cy="332.26" r="1.26" fill="#ff1f1f"/>
<path d="M141.9,342.94h8.3" stroke="#1f1fff" stroke-width="1.15"/>
<circle cx="146.05" cy="342.94" r="1.26" fill="#1f1fff"/>
<path d="M141.9,353.62h8.3" stroke="#111111" stroke-width="1.15"/>
<circle cx="146.05" cy="353.62" r="1.26" fill="#111111"/>
<path d="M214.3,345.78V353.8M212.95,345.78h2.7M212.95,353.8h2.7M218.56,343.64V351.41M217.22,343.64h2.7M217.22,351.41h2.7M222.83,346.84V351.23M221.48,346.84h2.7M221.48,351.23h2.7M227.09,337.59V343.87M225.75,337.59h2.7M225.75,343.87h2.7M231.36,339.44V343.53M230.01,339.44h2.7M230.01,343.53h2.7M235.62,345.23V354.35M234.28,345.23h2.7M234.28,354.35h2.7M239.89,341.35V346.15M238.54,341.35h2.7M238.54,346.15h2.7M244.16,336.25V345.21M242.81,336.25h2.7M242.81,345.21h2.7M248.42,331.1V336.77M247.07,331.1h2.7M247.07,336.77h2.7M252.69,330.91V339.98M251.34,330.91h2.7M251.34,339.98h2.7M256.95,332.26V341.65M255.6,332.26h2.7M255.6,341.65h2.7M261.22,331.77V336.1M259.87,331.77h2.7M259.87,336.1h2.7M265.48,327.53V335.05M264.13,327.53h2.7M264.13,335.05h2.7M269.75,332.6V339.8M268.39,332.6h2.7M268.39,339.8h2.7M274.01,339.27V345.21M272.66,339.27h2.7M272.66,345.21h2.7M278.27,347.01V355.59M276.92,347.01h2.7M276.92,355.59h2.7M282.54,358.7V363.53M281.19,358.7h2.7M281.19,363.53h2.7M286.81,348.4V355.71M285.45,348.4h2.7M285.45,355.71h2.7M291.07,339.56V346.43M289.72,339.56h2.7M289.72,346.43h2.7M295.34,346.15V354.94M293.99,346.15h2.7M293.99,354.94h2.7M299.6,345.94V353.64M298.25,345.94h2.7M298.25,353.64h2.7M303.87,344.5V349.04M302.51,344.5h2.7M302.51,349.04h2.7M308.13,347.35V356.76M306.78,347.35h2.7M306.78,356.76h2.7M312.39,342.83V349.2M311.04,342.83h2.7M311.04,349.2h2.7" stroke="#f2188c" stroke-width="0.55" fill="none" opacity="0.8"/>
<path d="M214.3,349.79L218.56,347.52L222.83,349.04L227.09,340.73L231.36,341.49L235.62,349.79L239.89,343.75L244.16,340.73L248.42,333.94L252.69,335.44L256.95,336.95L261.22,333.94L265.48,331.29L269.75,336.2L274.01,342.24L278.27,351.3L282.54,361.12L286.81,352.06L291.07,343L295.34,350.55L299.6,349.79L303.87,346.77L308.13,352.06L312.39,346.01" stroke="#f2188c" stroke-width="0.95" fill="none" stroke-linejoin="round"/>
<path d="M214.3,347.94L216.15,349.79L214.3,351.64L212.45,349.79Z" fill="#f2188c"/><path d="M218.56,345.67L220.41,347.52L218.56,349.38L216.72,347.52Z" fill="#f2188c"/><path d="M222.83,347.19L224.68,349.04L222.83,350.89L220.98,349.04Z" fill="#f2188c"/><path d="M227.09,338.88L228.94,340.73L227.09,342.58L225.25,340.73Z" fill="#f2188c"/><path d="M231.36,339.63L233.21,341.49L231.36,343.34L229.51,341.49Z" fill="#f2188c"/><path d="M235.62,347.94L237.47,349.79L235.62,351.64L233.78,349.79Z" fill="#f2188c"/><path d="M239.89,341.9L241.74,343.75L239.89,345.6L238.04,343.75Z" fill="#f2188c"/><path d="M244.16,338.88L246,340.73L244.16,342.58L242.31,340.73Z" fill="#f2188c"/><path d="M248.42,332.08L250.27,333.94L248.42,335.79L246.57,333.94Z" fill="#f2188c"/><path d="M252.69,333.59L254.53,335.44L252.69,337.3L250.84,335.44Z" fill="#f2188c"/><path d="M256.95,335.1L258.8,336.95L256.95,338.81L255.1,336.95Z" fill="#f2188c"/><path d="M261.22,332.08L263.07,333.94L261.22,335.79L259.37,333.94Z" fill="#f2188c"/><path d="M265.48,329.44L267.33,331.29L265.48,333.14L263.63,331.29Z" fill="#f2188c"/><path d="M269.75,334.35L271.6,336.2L269.75,338.05L267.89,336.2Z" fill="#f2188c"/><path d="M274.01,340.39L275.86,342.24L274.01,344.09L272.16,342.24Z" fill="#f2188c"/><path d="M278.27,349.45L280.12,351.3L278.27,353.15L276.42,351.3Z" fill="#f2188c"/><path d="M282.54,359.26L284.39,361.12L282.54,362.97L280.69,361.12Z" fill="#f2188c"/><path d="M286.81,350.2L288.66,352.06L286.81,353.91L284.95,352.06Z" fill="#f2188c"/><path d="M291.07,341.14L292.92,343L291.07,344.85L289.22,343Z" fill="#f2188c"/><path d="M295.34,348.69L297.19,350.55L295.34,352.4L293.49,350.55Z" fill="#f2188c"/><path d="M299.6,347.94L301.45,349.79L299.6,351.64L297.75,349.79Z" fill="#f2188c"/><path d="M303.87,344.92L305.72,346.77L303.87,348.62L302.01,346.77Z" fill="#f2188c"/><path d="M308.13,350.2L309.98,352.06L308.13,353.91L306.28,352.06Z" fill="#f2188c"/><path d="M312.39,344.16L314.25,346.01L312.39,347.87L310.54,346.01Z" fill="#f2188c"/>
<path d="M214.3,350.36V355.26M212.95,350.36h2.7M212.95,355.26h2.7M218.56,351.24V357.4M217.22,351.24h2.7M217.22,357.4h2.7M222.83,346.3V354.79M221.48,346.3h2.7M221.48,354.79h2.7M227.09,337.63V346.85M225.75,337.63h2.7M225.75,346.85h2.7M231.36,334V338.4M230.01,334h2.7M230.01,338.4h2.7M235.62,328.22V334.37M234.28,328.22h2.7M234.28,334.37h2.7M239.89,321.32V327.68M238.54,321.32h2.7M238.54,327.68h2.7M244.16,338.46V344.51M242.81,338.46h2.7M242.81,344.51h2.7M248.42,326.73V338.12M247.07,326.73h2.7M247.07,338.12h2.7M252.69,321.5V335.04M251.34,321.5h2.7M251.34,335.04h2.7M256.95,315.82V333.17M255.6,315.82h2.7M255.6,333.17h2.7M261.22,325.34V338.75M259.87,325.34h2.7M259.87,338.75h2.7M265.48,315.23V336.79M264.13,315.23h2.7M264.13,336.79h2.7M269.75,318.6V333.41M268.39,318.6h2.7M268.39,333.41h2.7M274.01,332.65V341.26M272.66,332.65h2.7M272.66,341.26h2.7M278.27,345.32V352.75M276.92,345.32h2.7M276.92,352.75h2.7M282.54,350.67V359.48M281.19,350.67h2.7M281.19,359.48h2.7M286.81,349.63V359.01M285.45,349.63h2.7M285.45,359.01h2.7M291.07,350.45V356.68M289.72,350.45h2.7M289.72,356.68h2.7M295.34,354.89V359.79M293.99,354.89h2.7M293.99,359.79h2.7M299.6,351.75V358.4M298.25,351.75h2.7M298.25,358.4h2.7M303.87,351.07V357.57M302.51,351.07h2.7M302.51,357.57h2.7M308.13,352.28V357.87M306.78,352.28h2.7M306.78,357.87h2.7M312.39,350.03V358.61M311.04,350.03h2.7M311.04,358.61h2.7" stroke="#fb8c1c" stroke-width="0.55" fill="none" opacity="0.8"/>
<path d="M214.3,352.81L218.56,354.32L222.83,350.55L227.09,342.24L231.36,336.2L235.62,331.29L239.89,324.5L244.16,341.49L248.42,332.43L252.69,328.27L256.95,324.5L261.22,332.05L265.48,326.01L269.75,326.01L274.01,336.95L278.27,349.04L282.54,355.07L286.81,354.32L291.07,353.56L295.34,357.34L299.6,355.07L303.87,354.32L308.13,355.07L312.39,354.32" stroke="#fb8c1c" stroke-width="0.95" fill="none" stroke-linejoin="round"/>
<rect x="212.85" y="351.36" width="2.9" height="2.9" fill="#fb8c1c"/><rect x="217.12" y="352.87" width="2.9" height="2.9" fill="#fb8c1c"/><rect x="221.38" y="349.1" width="2.9" height="2.9" fill="#fb8c1c"/><rect x="225.65" y="340.79" width="2.9" height="2.9" fill="#fb8c1c"/><rect x="229.91" y="334.75" width="2.9" height="2.9" fill="#fb8c1c"/><rect x="234.18" y="329.84" width="2.9" height="2.9" fill="#fb8c1c"/><rect x="238.44" y="323.05" width="2.9" height="2.9" fill="#fb8c1c"/><rect x="242.71" y="340.04" width="2.9" height="2.9" fill="#fb8c1c"/><rect x="246.97" y="330.98" width="2.9" height="2.9" fill="#fb8c1c"/><rect x="251.24" y="326.82" width="2.9" height="2.9" fill="#fb8c1c"/><rect x="255.5" y="323.05" width="2.9" height="2.9" fill="#fb8c1c"/><rect x="259.77" y="330.6" width="2.9" height="2.9" fill="#fb8c1c"/><rect x="264.03" y="324.56" width="2.9" height="2.9" fill="#fb8c1c"/><rect x="268.3" y="324.56" width="2.9" height="2.9" fill="#fb8c1c"/><rect x="272.56" y="335.5" width="2.9" height="2.9" fill="#fb8c1c"/><rect x="276.82" y="347.59" width="2.9" height="2.9" fill="#fb8c1c"/><rect x="281.09" y="353.62" width="2.9" height="2.9" fill="#fb8c1c"/><rect x="285.36" y="352.87" width="2.9" height="2.9" fill="#fb8c1c"/><rect x="289.62" y="352.12" width="2.9" height="2.9" fill="#fb8c1c"/><rect x="293.89" y="355.89" width="2.9" height="2.9" fill="#fb8c1c"/><rect x="298.15" y="353.62" width="2.9" height="2.9" fill="#fb8c1c"/><rect x="302.42" y="352.87" width="2.9" height="2.9" fill="#fb8c1c"/><rect x="306.68" y="353.62" width="2.9" height="2.9" fill="#fb8c1c"/><rect x="310.94" y="352.87" width="2.9" height="2.9" fill="#fb8c1c"/>
<path d="M214.3,338.01V346.47M212.95,338.01h2.7M212.95,346.47h2.7M218.56,343.51V350.03M217.22,343.51h2.7M217.22,350.03h2.7M222.83,336.59V343.36M221.48,336.59h2.7M221.48,343.36h2.7M227.09,327.63V331.93M225.75,327.63h2.7M225.75,331.93h2.7M231.36,322.6V330.93M230.01,322.6h2.7M230.01,330.93h2.7M235.62,322.56V330.97M234.28,322.56h2.7M234.28,330.97h2.7M239.89,324.95V333.1M238.54,324.95h2.7M238.54,333.1h2.7M244.16,323.32V330.21M242.81,323.32h2.7M242.81,330.21h2.7M248.42,329.62V337.49M247.07,329.62h2.7M247.07,337.49h2.7M252.69,331.65V337.73M251.34,331.65h2.7M251.34,337.73h2.7M256.95,328.13V335.97M255.6,328.13h2.7M255.6,335.97h2.7M261.22,324.83V331.72M259.87,324.83h2.7M259.87,331.72h2.7M265.48,329.76V335.09M264.13,329.76h2.7M264.13,335.09h2.7M269.75,332V338.89M268.39,332h2.7M268.39,338.89h2.7M274.01,331.39V336.48M272.66,331.39h2.7M272.66,336.48h2.7M278.27,335.35V344.6M276.92,335.35h2.7M276.92,344.6h2.7M282.54,332.86V341.05M281.19,332.86h2.7M281.19,341.05h2.7M286.81,333.31V342.11M285.45,333.31h2.7M285.45,342.11h2.7M291.07,332.2V340.2M289.72,332.2h2.7M289.72,340.2h2.7M295.34,325.65V333.92M293.99,325.65h2.7M293.99,333.92h2.7M299.6,333.97V341.45M298.25,333.97h2.7M298.25,341.45h2.7M303.87,336.09V345.37M302.51,336.09h2.7M302.51,345.37h2.7M308.13,332.38V340.02M306.78,332.38h2.7M306.78,340.02h2.7M312.39,337.12V345.85M311.04,337.12h2.7M311.04,345.85h2.7" stroke="#17935a" stroke-width="0.55" fill="none" opacity="0.8"/>
<path d="M214.3,342.24L218.56,346.77L222.83,339.98L227.09,329.78L231.36,326.76L235.62,326.76L239.89,329.03L244.16,326.76L248.42,333.56L252.69,334.69L256.95,332.05L261.22,328.27L265.48,332.43L269.75,335.44L274.01,333.94L278.27,339.98L282.54,336.95L286.81,337.71L291.07,336.2L295.34,329.78L299.6,337.71L303.87,340.73L308.13,336.2L312.39,341.49" stroke="#17935a" stroke-width="0.95" fill="none" stroke-linejoin="round"/>
<path d="M214.3,340.69L215.85,343.4L212.75,343.4Z" fill="#17935a"/><path d="M218.56,345.22L220.12,347.93L217.01,347.93Z" fill="#17935a"/><path d="M222.83,338.43L224.38,341.14L221.28,341.14Z" fill="#17935a"/><path d="M227.09,328.23L228.65,330.95L225.54,330.95Z" fill="#17935a"/><path d="M231.36,325.21L232.91,327.93L229.81,327.93Z" fill="#17935a"/><path d="M235.62,325.21L237.18,327.93L234.07,327.93Z" fill="#17935a"/><path d="M239.89,327.48L241.44,330.19L238.34,330.19Z" fill="#17935a"/><path d="M244.16,325.21L245.71,327.93L242.6,327.93Z" fill="#17935a"/><path d="M248.42,332.01L249.97,334.72L246.87,334.72Z" fill="#17935a"/><path d="M252.69,333.14L254.24,335.85L251.13,335.85Z" fill="#17935a"/><path d="M256.95,330.5L258.5,333.21L255.4,333.21Z" fill="#17935a"/><path d="M261.22,326.72L262.77,329.44L259.67,329.44Z" fill="#17935a"/><path d="M265.48,330.88L267.03,333.59L263.93,333.59Z" fill="#17935a"/><path d="M269.75,333.89L271.3,336.61L268.19,336.61Z" fill="#17935a"/><path d="M274.01,332.38L275.56,335.1L272.46,335.1Z" fill="#17935a"/><path d="M278.27,338.43L279.82,341.14L276.72,341.14Z" fill="#17935a"/><path d="M282.54,335.4L284.09,338.12L280.99,338.12Z" fill="#17935a"/><path d="M286.81,336.16L288.36,338.87L285.25,338.87Z" fill="#17935a"/><path d="M291.07,334.65L292.62,337.36L289.52,337.36Z" fill="#17935a"/><path d="M295.34,328.23L296.89,330.95L293.79,330.95Z" fill="#17935a"/><path d="M299.6,336.16L301.15,338.87L298.05,338.87Z" fill="#17935a"/><path d="M303.87,339.18L305.42,341.89L302.31,341.89Z" fill="#17935a"/><path d="M308.13,334.65L309.68,337.36L306.58,337.36Z" fill="#17935a"/><path d="M312.39,339.94L313.94,342.65L310.84,342.65Z" fill="#17935a"/>
<path d="M326.1,311.2h8.3" stroke="#f2188c" stroke-width="1.15"/>
<path d="M330.25,309.35L332.1,311.2L330.25,313.05L328.4,311.2Z" fill="#f2188c"/>
<path d="M326.1,321.8h8.3" stroke="#fb8c1c" stroke-width="1.15"/>
<rect x="328.8" y="320.35" width="2.9" height="2.9" fill="#fb8c1c"/>
<path d="M326.1,332.4h8.3" stroke="#17935a" stroke-width="1.15"/>
<path d="M330.25,330.85L331.8,333.56L328.7,333.56Z" fill="#17935a"/>
<path d="M39.1,503.23V507.48M37.75,503.23h2.7M37.75,507.48h2.7M43.39,503.56V511.72M42.04,503.56h2.7M42.04,511.72h2.7M47.68,503.49V507.22M46.33,503.49h2.7M46.33,507.22h2.7M51.97,492.13V498.01M50.62,492.13h2.7M50.62,498.01h2.7M56.26,488.55V497.01M54.91,488.55h2.7M54.91,497.01h2.7M60.55,483.33V487.76M59.2,483.33h2.7M59.2,487.76h2.7M64.84,486.24V493.23M63.49,486.24h2.7M63.49,493.23h2.7M69.13,487.8V496.24M67.78,487.8h2.7M67.78,496.24h2.7M73.42,486.16V493.31M72.07,486.16h2.7M72.07,493.31h2.7M77.71,484.95V489.18M76.36,484.95h2.7M76.36,489.18h2.7M82,483V491.14M80.65,483h2.7M80.65,491.14h2.7M86.29,492.42V496.19M84.94,492.42h2.7M84.94,496.19h2.7M90.58,494.74V499.97M89.23,494.74h2.7M89.23,499.97h2.7M94.87,497.83V504.49M93.52,497.83h2.7M93.52,504.49h2.7M99.16,500.58V507.84M97.81,500.58h2.7M97.81,507.84h2.7M103.45,497.45V503.36M102.1,497.45h2.7M102.1,503.36h2.7M107.74,490.71V494.85M106.39,490.71h2.7M106.39,494.85h2.7M112.03,490.13V498.49M110.68,490.13h2.7M110.68,498.49h2.7M116.32,489.54V496.03M114.97,489.54h2.7M114.97,496.03h2.7M120.61,490.23V498.39M119.26,490.23h2.7M119.26,498.39h2.7M124.9,500.03V506.87M123.55,500.03h2.7M123.55,506.87h2.7M129.19,502.47V506.71M127.84,502.47h2.7M127.84,506.71h2.7M133.48,501.26V509.45M132.13,501.26h2.7M132.13,509.45h2.7M137.77,503.94V508.29M136.42,503.94h2.7M136.42,508.29h2.7" stroke="#19eef2" stroke-width="0.55" fill="none" opacity="0.8"/>
<path d="M39.1,505.36L43.39,507.64L47.68,505.36L51.97,495.07L56.26,492.78L60.55,485.54L64.84,489.73L69.13,492.02L73.42,489.73L77.71,487.07L82,487.07L86.29,494.31L90.58,497.35L94.87,501.16L99.16,504.21L103.45,500.4L107.74,492.78L112.03,494.31L116.32,492.78L120.61,494.31L124.9,503.45L129.19,504.59L133.48,505.36L137.77,506.12" stroke="#19eef2" stroke-width="0.95" fill="none" stroke-linejoin="round"/>
<circle cx="39.1" cy="505.36" r="1.05" fill="#19eef2"/><circle cx="43.39" cy="507.64" r="1.05" fill="#19eef2"/><circle cx="47.68" cy="505.36" r="1.05" fill="#19eef2"/><circle cx="51.97" cy="495.07" r="1.05" fill="#19eef2"/><circle cx="56.26" cy="492.78" r="1.05" fill="#19eef2"/><circle cx="60.55" cy="485.54" r="1.05" fill="#19eef2"/><circle cx="64.84" cy="489.73" r="1.05" fill="#19eef2"/><circle cx="69.13" cy="492.02" r="1.05" fill="#19eef2"/><circle cx="73.42" cy="489.73" r="1.05" fill="#19eef2"/><circle cx="77.71" cy="487.07" r="1.05" fill="#19eef2"/><circle cx="82" cy="487.07" r="1.05" fill="#19eef2"/><circle cx="86.29" cy="494.31" r="1.05" fill="#19eef2"/><circle cx="90.58" cy="497.35" r="1.05" fill="#19eef2"/><circle cx="94.87" cy="501.16" r="1.05" fill="#19eef2"/><circle cx="99.16" cy="504.21" r="1.05" fill="#19eef2"/><circle cx="103.45" cy="500.4" r="1.05" fill="#19eef2"/><circle cx="107.74" cy="492.78" r="1.05" fill="#19eef2"/><circle cx="112.03" cy="494.31" r="1.05" fill="#19eef2"/><circle cx="116.32" cy="492.78" r="1.05" fill="#19eef2"/><circle cx="120.61" cy="494.31" r="1.05" fill="#19eef2"/><circle cx="124.9" cy="503.45" r="1.05" fill="#19eef2"/><circle cx="129.19" cy="504.59" r="1.05" fill="#19eef2"/><circle cx="133.48" cy="505.36" r="1.05" fill="#19eef2"/><circle cx="137.77" cy="506.12" r="1.05" fill="#19eef2"/>
<path d="M39.1,497.47V501.81M37.75,497.47h2.7M37.75,501.81h2.7M43.39,495.1V502.65M42.04,495.1h2.7M42.04,502.65h2.7M47.68,492.2V497.93M46.33,492.2h2.7M46.33,497.93h2.7M51.97,490.48V496.61M50.62,490.48h2.7M50.62,496.61h2.7M56.26,487.1V495.42M54.91,487.1h2.7M54.91,495.42h2.7M60.55,485.11V489.79M59.2,485.11h2.7M59.2,489.79h2.7M64.84,485.51V489.38M63.49,485.51h2.7M63.49,489.38h2.7M69.13,479.33V485.66M67.78,479.33h2.7M67.78,485.66h2.7M73.42,481.98V486.82M72.07,481.98h2.7M72.07,486.82h2.7M77.71,482.98V488.11M76.36,482.98h2.7M76.36,488.11h2.7M82,477.14V484.8M80.65,477.14h2.7M80.65,484.8h2.7M86.29,476.81V483.61M84.94,476.81h2.7M84.94,483.61h2.7M90.58,477.06V484.12M89.23,477.06h2.7M89.23,484.12h2.7M94.87,478.23V482.18M93.52,478.23h2.7M93.52,482.18h2.7M99.16,478.91V484.55M97.81,478.91h2.7M97.81,484.55h2.7M103.45,479.33V487.18M102.1,479.33h2.7M102.1,487.18h2.7M107.74,481.25V486.79M106.39,481.25h2.7M106.39,486.79h2.7M112.03,484.01V488.6M110.68,484.01h2.7M110.68,488.6h2.7M116.32,486.22V491.73M114.97,486.22h2.7M114.97,491.73h2.7M120.61,486.32V494.67M119.26,486.32h2.7M119.26,494.67h2.7M124.9,491.87V496.74M123.55,491.87h2.7M123.55,496.74h2.7M129.19,488.01V496.03M127.84,488.01h2.7M127.84,496.03h2.7M133.48,494.44V500.27M132.13,494.44h2.7M132.13,500.27h2.7M137.77,497.87V502.93M136.42,497.87h2.7M136.42,502.93h2.7" stroke="#1ee61e" stroke-width="0.55" fill="none" opacity="0.8"/>
<path d="M39.1,499.64L43.39,498.88L47.68,495.07L51.97,493.54L56.26,491.26L60.55,487.45L64.84,487.45L69.13,482.5L73.42,484.4L77.71,485.54L82,480.97L86.29,480.21L90.58,480.59L94.87,480.21L99.16,481.73L103.45,483.26L107.74,484.02L112.03,486.31L116.32,488.97L120.61,490.5L124.9,494.31L129.19,492.02L133.48,497.35L137.77,500.4" stroke="#1ee61e" stroke-width="0.95" fill="none" stroke-linejoin="round"/>
<circle cx="39.1" cy="499.64" r="1.05" fill="#1ee61e"/><circle cx="43.39" cy="498.88" r="1.05" fill="#1ee61e"/><circle cx="47.68" cy="495.07" r="1.05" fill="#1ee61e"/><circle cx="51.97" cy="493.54" r="1.05" fill="#1ee61e"/><circle cx="56.26" cy="491.26" r="1.05" fill="#1ee61e"/><circle cx="60.55" cy="487.45" r="1.05" fill="#1ee61e"/><circle cx="64.84" cy="487.45" r="1.05" fill="#1ee61e"/><circle cx="69.13" cy="482.5" r="1.05" fill="#1ee61e"/><circle cx="73.42" cy="484.4" r="1.05" fill="#1ee61e"/><circle cx="77.71" cy="485.54" r="1.05" fill="#1ee61e"/><circle cx="82" cy="480.97" r="1.05" fill="#1ee61e"/><circle cx="86.29" cy="480.21" r="1.05" fill="#1ee61e"/><circle cx="90.58" cy="480.59" r="1.05" fill="#1ee61e"/><circle cx="94.87" cy="480.21" r="1.05" fill="#1ee61e"/><circle cx="99.16" cy="481.73" r="1.05" fill="#1ee61e"/><circle cx="103.45" cy="483.26" r="1.05" fill="#1ee61e"/><circle cx="107.74" cy="484.02" r="1.05" fill="#1ee61e"/><circle cx="112.03" cy="486.31" r="1.05" fill="#1ee61e"/><circle cx="116.32" cy="488.97" r="1.05" fill="#1ee61e"/><circle cx="120.61" cy="490.5" r="1.05" fill="#1ee61e"/><circle cx="124.9" cy="494.31" r="1.05" fill="#1ee61e"/><circle cx="129.19" cy="492.02" r="1.05" fill="#1ee61e"/><circle cx="133.48" cy="497.35" r="1.05" fill="#1ee61e"/><circle cx="137.77" cy="500.4" r="1.05" fill="#1ee61e"/>
<path d="M39.1,502.1V513.18M37.75,502.1h2.7M37.75,513.18h2.7M43.39,500.96V511.27M42.04,500.96h2.7M42.04,511.27h2.7M47.68,506.34V513.51M46.33,506.34h2.7M46.33,513.51h2.7M51.97,497.41V504.91M50.62,497.41h2.7M50.62,504.91h2.7M56.26,494.36V503.4M54.91,494.36h2.7M54.91,503.4h2.7M60.55,489.06V494.98M59.2,489.06h2.7M59.2,494.98h2.7M64.84,482.02V490.59M63.49,482.02h2.7M63.49,490.59h2.7M69.13,487.28V493.71M67.78,487.28h2.7M67.78,493.71h2.7M73.42,482.06V489.03M72.07,482.06h2.7M72.07,489.03h2.7M77.71,473.85V482M76.36,473.85h2.7M76.36,482h2.7M82,463.49V473.31M80.65,463.49h2.7M80.65,473.31h2.7M86.29,469.78V479.97M84.94,469.78h2.7M84.94,479.97h2.7M90.58,468.62V479.61M89.23,468.62h2.7M89.23,479.61h2.7M94.87,471.05V481.75M93.52,471.05h2.7M93.52,481.75h2.7M99.16,485.01V494.46M97.81,485.01h2.7M97.81,494.46h2.7M103.45,484.09V492.33M102.1,484.09h2.7M102.1,492.33h2.7M107.74,489.11V499.5M106.39,489.11h2.7M106.39,499.5h2.7M112.03,492.89V501.82M110.68,492.89h2.7M110.68,501.82h2.7M116.32,495.92V501.84M114.97,495.92h2.7M114.97,501.84h2.7M120.61,494.69V504.59M119.26,494.69h2.7M119.26,504.59h2.7M124.9,502.14V510.09M123.55,502.14h2.7M123.55,510.09h2.7M129.19,499.23V509.19M127.84,499.23h2.7M127.84,509.19h2.7M133.48,496.2V506.12M132.13,496.2h2.7M132.13,506.12h2.7M137.77,499.49V505.89M136.42,499.49h2.7M136.42,505.89h2.7" stroke="#ff1f1f" stroke-width="0.55" fill="none" opacity="0.8"/>
<path d="M39.1,507.64L43.39,506.12L47.68,509.93L51.97,501.16L56.26,498.88L60.55,492.02L64.84,486.31L69.13,490.5L73.42,485.54L77.71,477.92L82,468.4L86.29,474.88L90.58,474.11L94.87,476.4L99.16,489.73L103.45,488.21L107.74,494.31L112.03,497.35L116.32,498.88L120.61,499.64L124.9,506.12L129.19,504.21L133.48,501.16L137.77,502.69" stroke="#ff1f1f" stroke-width="0.95" fill="none" stroke-linejoin="round"/>
<circle cx="39.1" cy="507.64" r="1.05" fill="#ff1f1f"/><circle cx="43.39" cy="506.12" r="1.05" fill="#ff1f1f"/><circle cx="47.68" cy="509.93" r="1.05" fill="#ff1f1f"/><circle cx="51.97" cy="501.16" r="1.05" fill="#ff1f1f"/><circle cx="56.26" cy="498.88" r="1.05" fill="#ff1f1f"/><circle cx="60.55" cy="492.02" r="1.05" fill="#ff1f1f"/><circle cx="64.84" cy="486.31" r="1.05" fill="#ff1f1f"/><circle cx="69.13" cy="490.5" r="1.05" fill="#ff1f1f"/><circle cx="73.42" cy="485.54" r="1.05" fill="#ff1f1f"/><circle cx="77.71" cy="477.92" r="1.05" fill="#ff1f1f"/><circle cx="82" cy="468.4" r="1.05" fill="#ff1f1f"/><circle cx="86.29" cy="474.88" r="1.05" fill="#ff1f1f"/><circle cx="90.58" cy="474.11" r="1.05" fill="#ff1f1f"/><circle cx="94.87" cy="476.4" r="1.05" fill="#ff1f1f"/><circle cx="99.16" cy="489.73" r="1.05" fill="#ff1f1f"/><circle cx="103.45" cy="488.21" r="1.05" fill="#ff1f1f"/><circle cx="107.74" cy="494.31" r="1.05" fill="#ff1f1f"/><circle cx="112.03" cy="497.35" r="1.05" fill="#ff1f1f"/><circle cx="116.32" cy="498.88" r="1.05" fill="#ff1f1f"/><circle cx="120.61" cy="499.64" r="1.05" fill="#ff1f1f"/><circle cx="124.9" cy="506.12" r="1.05" fill="#ff1f1f"/><circle cx="129.19" cy="504.21" r="1.05" fill="#ff1f1f"/><circle cx="133.48" cy="501.16" r="1.05" fill="#ff1f1f"/><circle cx="137.77" cy="502.69" r="1.05" fill="#ff1f1f"/>
<path d="M39.1,499.52V505.86M37.75,499.52h2.7M37.75,505.86h2.7M43.39,497.17V505.16M42.04,497.17h2.7M42.04,505.16h2.7M47.68,502.21V506.21M46.33,502.21h2.7M46.33,506.21h2.7M51.97,493.32V498.34M50.62,493.32h2.7M50.62,498.34h2.7M56.26,491.85V498.29M54.91,491.85h2.7M54.91,498.29h2.7M60.55,484.1V488.51M59.2,484.1h2.7M59.2,488.51h2.7M64.84,471.63V479.65M63.49,471.63h2.7M63.49,479.65h2.7M69.13,473.59V480.73M67.78,473.59h2.7M67.78,480.73h2.7M73.42,478.35V485.88M72.07,478.35h2.7M72.07,485.88h2.7M77.71,474.77V482.6M76.36,474.77h2.7M76.36,482.6h2.7M82,477.02V481.88M80.65,477.02h2.7M80.65,481.88h2.7M86.29,477.69V484.25M84.94,477.69h2.7M84.94,484.25h2.7M90.58,473.78V482.07M89.23,473.78h2.7M89.23,482.07h2.7M94.87,476.52V482.38M93.52,476.52h2.7M93.52,482.38h2.7M99.16,484.18V491.48M97.81,484.18h2.7M97.81,491.48h2.7M103.45,487.14V493.86M102.1,487.14h2.7M102.1,493.86h2.7M107.74,482.56V488.53M106.39,482.56h2.7M106.39,488.53h2.7M112.03,485.69V492.26M110.68,485.69h2.7M110.68,492.26h2.7M116.32,487.4V493.59M114.97,487.4h2.7M114.97,493.59h2.7M120.61,485.28V492.66M119.26,485.28h2.7M119.26,492.66h2.7M124.9,494.62V498.57M123.55,494.62h2.7M123.55,498.57h2.7M129.19,492.93V497.21M127.84,492.93h2.7M127.84,497.21h2.7M133.48,493.98V499.21M132.13,493.98h2.7M132.13,499.21h2.7M137.77,496.75V501.01M136.42,496.75h2.7M136.42,501.01h2.7" stroke="#1f1fff" stroke-width="0.55" fill="none" opacity="0.8"/>
<path d="M39.1,502.69L43.39,501.16L47.68,504.21L51.97,495.83L56.26,495.07L60.55,486.31L64.84,475.64L69.13,477.16L73.42,482.11L77.71,478.69L82,479.45L86.29,480.97L90.58,477.92L94.87,479.45L99.16,487.83L103.45,490.5L107.74,485.54L112.03,488.97L116.32,490.5L120.61,488.97L124.9,496.59L129.19,495.07L133.48,496.59L137.77,498.88" stroke="#1f1fff" stroke-width="0.95" fill="none" stroke-linejoin="round"/>
<circle cx="39.1" cy="502.69" r="1.05" fill="#1f1fff"/><circle cx="43.39" cy="501.16" r="1.05" fill="#1f1fff"/><circle cx="47.68" cy="504.21" r="1.05" fill="#1f1fff"/><circle cx="51.97" cy="495.83" r="1.05" fill="#1f1fff"/><circle cx="56.26" cy="495.07" r="1.05" fill="#1f1fff"/><circle cx="60.55" cy="486.31" r="1.05" fill="#1f1fff"/><circle cx="64.84" cy="475.64" r="1.05" fill="#1f1fff"/><circle cx="69.13" cy="477.16" r="1.05" fill="#1f1fff"/><circle cx="73.42" cy="482.11" r="1.05" fill="#1f1fff"/><circle cx="77.71" cy="478.69" r="1.05" fill="#1f1fff"/><circle cx="82" cy="479.45" r="1.05" fill="#1f1fff"/><circle cx="86.29" cy="480.97" r="1.05" fill="#1f1fff"/><circle cx="90.58" cy="477.92" r="1.05" fill="#1f1fff"/><circle cx="94.87" cy="479.45" r="1.05" fill="#1f1fff"/><circle cx="99.16" cy="487.83" r="1.05" fill="#1f1fff"/><circle cx="103.45" cy="490.5" r="1.05" fill="#1f1fff"/><circle cx="107.74" cy="485.54" r="1.05" fill="#1f1fff"/><circle cx="112.03" cy="488.97" r="1.05" fill="#1f1fff"/><circle cx="116.32" cy="490.5" r="1.05" fill="#1f1fff"/><circle cx="120.61" cy="488.97" r="1.05" fill="#1f1fff"/><circle cx="124.9" cy="496.59" r="1.05" fill="#1f1fff"/><circle cx="129.19" cy="495.07" r="1.05" fill="#1f1fff"/><circle cx="133.48" cy="496.59" r="1.05" fill="#1f1fff"/><circle cx="137.77" cy="498.88" r="1.05" fill="#1f1fff"/>
<path d="M39.1,500.2V508.23M37.75,500.2h2.7M37.75,508.23h2.7M43.39,501.59V509.12M42.04,501.59h2.7M42.04,509.12h2.7M47.68,499.43V504.43M46.33,499.43h2.7M46.33,504.43h2.7M51.97,486.39V494.61M50.62,486.39h2.7M50.62,494.61h2.7M56.26,487.43V493.56M54.91,487.43h2.7M54.91,493.56h2.7M60.55,482.93V491.2M59.2,482.93h2.7M59.2,491.2h2.7M64.84,476.88V485.06M63.49,476.88h2.7M63.49,485.06h2.7M69.13,484.64V489.49M67.78,484.64h2.7M67.78,489.49h2.7M73.42,479.41V484.82M72.07,479.41h2.7M72.07,484.82h2.7M77.71,480.38V487.66M76.36,480.38h2.7M76.36,487.66h2.7M82,478.44V486.55M80.65,478.44h2.7M80.65,486.55h2.7M86.29,478.48V486.51M84.94,478.48h2.7M84.94,486.51h2.7M90.58,478.67V484.8M89.23,478.67h2.7M89.23,484.8h2.7M94.87,477.96V485.51M93.52,477.96h2.7M93.52,485.51h2.7M99.16,473.1V485.79M97.81,473.1h2.7M97.81,485.79h2.7M103.45,471.33V483M102.1,471.33h2.7M102.1,483h2.7M107.74,469.14V485.18M106.39,469.14h2.7M106.39,485.18h2.7M112.03,475.4V483.5M110.68,475.4h2.7M110.68,483.5h2.7M116.32,483.74V490.39M114.97,483.74h2.7M114.97,490.39h2.7M120.61,487.01V495.51M119.26,487.01h2.7M119.26,495.51h2.7M124.9,494.51V501.72M123.55,494.51h2.7M123.55,501.72h2.7M129.19,495.14V501.09M127.84,495.14h2.7M127.84,501.09h2.7M133.48,497.14V505.18M132.13,497.14h2.7M132.13,505.18h2.7M137.77,501.35V507.83M136.42,501.35h2.7M136.42,507.83h2.7" stroke="#111111" stroke-width="0.55" fill="none" opacity="0.8"/>
<path d="M39.1,504.21L43.39,505.36L47.68,501.93L51.97,490.5L56.26,490.5L60.55,487.07L64.84,480.97L69.13,487.07L73.42,482.11L77.71,484.02L82,482.5L86.29,482.5L90.58,481.73L94.87,481.73L99.16,479.45L103.45,477.16L107.74,477.16L112.03,479.45L116.32,487.07L120.61,491.26L124.9,498.12L129.19,498.12L133.48,501.16L137.77,504.59" stroke="#111111" stroke-width="0.95" fill="none" stroke-linejoin="round"/>
<circle cx="39.1" cy="504.21" r="1.05" fill="#111111"/><circle cx="43.39" cy="505.36" r="1.05" fill="#111111"/><circle cx="47.68" cy="501.93" r="1.05" fill="#111111"/><circle cx="51.97" cy="490.5" r="1.05" fill="#111111"/><circle cx="56.26" cy="490.5" r="1.05" fill="#111111"/><circle cx="60.55" cy="487.07" r="1.05" fill="#111111"/><circle cx="64.84" cy="480.97" r="1.05" fill="#111111"/><circle cx="69.13" cy="487.07" r="1.05" fill="#111111"/><circle cx="73.42" cy="482.11" r="1.05" fill="#111111"/><circle cx="77.71" cy="484.02" r="1.05" fill="#111111"/><circle cx="82" cy="482.5" r="1.05" fill="#111111"/><circle cx="86.29" cy="482.5" r="1.05" fill="#111111"/><circle cx="90.58" cy="481.73" r="1.05" fill="#111111"/><circle cx="94.87" cy="481.73" r="1.05" fill="#111111"/><circle cx="99.16" cy="479.45" r="1.05" fill="#111111"/><circle cx="103.45" cy="477.16" r="1.05" fill="#111111"/><circle cx="107.74" cy="477.16" r="1.05" fill="#111111"/><circle cx="112.03" cy="479.45" r="1.05" fill="#111111"/><circle cx="116.32" cy="487.07" r="1.05" fill="#111111"/><circle cx="120.61" cy="491.26" r="1.05" fill="#111111"/><circle cx="124.9" cy="498.12" r="1.05" fill="#111111"/><circle cx="129.19" cy="498.12" r="1.05" fill="#111111"/><circle cx="133.48" cy="501.16" r="1.05" fill="#111111"/><circle cx="137.77" cy="504.59" r="1.05" fill="#111111"/>
<path d="M141.9,451.3h8.3" stroke="#19eef2" stroke-width="1.15"/>
<circle cx="146.05" cy="451.3" r="1.26" fill="#19eef2"/>
<path d="M141.9,462.05h8.3" stroke="#1ee61e" stroke-width="1.15"/>
<circle cx="146.05" cy="462.05" r="1.26" fill="#1ee61e"/>
<path d="M141.9,472.8h8.3" stroke="#ff1f1f" stroke-width="1.15"/>
<circle cx="146.05" cy="472.8" r="1.26" fill="#ff1f1f"/>
<path d="M141.9,483.55h8.3" stroke="#1f1fff" stroke-width="1.15"/>
<circle cx="146.05" cy="483.55" r="1.26" fill="#1f1fff"/>
<path d="M141.9,494.3h8.3" stroke="#111111" stroke-width="1.15"/>
<circle cx="146.05" cy="494.3" r="1.26" fill="#111111"/>
<path d="M211.6,496.25V501.74M210.25,496.25h2.7M210.25,501.74h2.7M215.88,492.43V501.02M214.53,492.43h2.7M214.53,501.02h2.7M220.16,490.02V494.33M218.81,490.02h2.7M218.81,494.33h2.7M224.44,491.62V498.79M223.09,491.62h2.7M223.09,498.79h2.7M228.72,484.68V493.61M227.37,484.68h2.7M227.37,493.61h2.7M233,492.21V499.72M231.65,492.21h2.7M231.65,499.72h2.7M237.28,494.12V502.36M235.93,494.12h2.7M235.93,502.36h2.7M241.56,482.51V491.23M240.21,482.51h2.7M240.21,491.23h2.7M245.84,486.5V492.54M244.49,486.5h2.7M244.49,492.54h2.7M250.12,484.63V492.14M248.77,484.63h2.7M248.77,492.14h2.7M254.4,483.49V490.25M253.05,483.49h2.7M253.05,490.25h2.7M258.68,487.38V492.43M257.33,487.38h2.7M257.33,492.43h2.7M262.96,484.46V493.82M261.61,484.46h2.7M261.61,493.82h2.7M267.24,485.76V491.01M265.89,485.76h2.7M265.89,491.01h2.7M271.52,491.71V498.7M270.17,491.71h2.7M270.17,498.7h2.7M275.8,488.89V495.46M274.45,488.89h2.7M274.45,495.46h2.7M280.08,496.37V501.62M278.73,496.37h2.7M278.73,501.62h2.7M284.36,483.23V488.23M283.01,483.23h2.7M283.01,488.23h2.7M288.64,482.62V491.12M287.29,482.62h2.7M287.29,491.12h2.7M292.92,487.36V495.47M291.57,487.36h2.7M291.57,495.47h2.7M297.2,488.63V495.72M295.85,488.63h2.7M295.85,495.72h2.7M301.48,487.59V492.22M300.13,487.59h2.7M300.13,492.22h2.7M305.76,490.35V498.55M304.41,490.35h2.7M304.41,498.55h2.7M310.04,497.37V505.17M308.69,497.37h2.7M308.69,505.17h2.7" stroke="#f2188c" stroke-width="0.55" fill="none" opacity="0.8"/>
<path d="M211.6,499L215.88,496.72L220.16,492.18L224.44,495.21L228.72,489.14L233,495.97L237.28,498.24L241.56,486.87L245.84,489.52L250.12,488.38L254.4,486.87L258.68,489.9L262.96,489.14L267.24,488.38L271.52,495.21L275.8,492.18L280.08,499L284.36,485.73L288.64,486.87L292.92,491.42L297.2,492.18L301.48,489.9L305.76,494.45L310.04,501.27" stroke="#f2188c" stroke-width="0.95" fill="none" stroke-linejoin="round"/>
<path d="M211.6,497.15L213.45,499L211.6,500.85L209.75,499Z" fill="#f2188c"/><path d="M215.88,494.87L217.73,496.72L215.88,498.57L214.03,496.72Z" fill="#f2188c"/><path d="M220.16,490.32L222.01,492.18L220.16,494.03L218.31,492.18Z" fill="#f2188c"/><path d="M224.44,493.36L226.29,495.21L224.44,497.06L222.59,495.21Z" fill="#f2188c"/><path d="M228.72,487.29L230.57,489.14L228.72,490.99L226.87,489.14Z" fill="#f2188c"/><path d="M233,494.12L234.85,495.97L233,497.82L231.15,495.97Z" fill="#f2188c"/><path d="M237.28,496.39L239.13,498.24L237.28,500.09L235.43,498.24Z" fill="#f2188c"/><path d="M241.56,485.02L243.41,486.87L241.56,488.72L239.71,486.87Z" fill="#f2188c"/><path d="M245.84,487.67L247.69,489.52L245.84,491.37L243.99,489.52Z" fill="#f2188c"/><path d="M250.12,486.53L251.97,488.38L250.12,490.24L248.27,488.38Z" fill="#f2188c"/><path d="M254.4,485.02L256.25,486.87L254.4,488.72L252.55,486.87Z" fill="#f2188c"/><path d="M258.68,488.05L260.53,489.9L258.68,491.75L256.83,489.9Z" fill="#f2188c"/><path d="M262.96,487.29L264.81,489.14L262.96,490.99L261.11,489.14Z" fill="#f2188c"/><path d="M267.24,486.53L269.09,488.38L267.24,490.24L265.39,488.38Z" fill="#f2188c"/><path d="M271.52,493.36L273.37,495.21L271.52,497.06L269.67,495.21Z" fill="#f2188c"/><path d="M275.8,490.32L277.65,492.18L275.8,494.03L273.95,492.18Z" fill="#f2188c"/><path d="M280.08,497.15L281.93,499L280.08,500.85L278.23,499Z" fill="#f2188c"/><path d="M284.36,483.88L286.21,485.73L284.36,487.58L282.51,485.73Z" fill="#f2188c"/><path d="M288.64,485.02L290.49,486.87L288.64,488.72L286.79,486.87Z" fill="#f2188c"/><path d="M292.92,489.57L294.77,491.42L292.92,493.27L291.07,491.42Z" fill="#f2188c"/><path d="M297.2,490.32L299.05,492.18L297.2,494.03L295.35,492.18Z" fill="#f2188c"/><path d="M301.48,488.05L303.33,489.9L301.48,491.75L299.63,489.9Z" fill="#f2188c"/><path d="M305.76,492.6L307.61,494.45L305.76,496.3L303.91,494.45Z" fill="#f2188c"/><path d="M310.04,499.42L311.89,501.27L310.04,503.12L308.19,501.27Z" fill="#f2188c"/>
<path d="M211.6,503.85V510.82M210.25,503.85h2.7M210.25,510.82h2.7M215.88,502.2V509.44M214.53,502.2h2.7M214.53,509.44h2.7M220.16,501.5V507.1M218.81,501.5h2.7M218.81,507.1h2.7M224.44,496.36V504.67M223.09,496.36h2.7M223.09,504.67h2.7M228.72,493.12V498.81M227.37,493.12h2.7M227.37,498.81h2.7M233,482.27V491.47M231.65,482.27h2.7M231.65,491.47h2.7M237.28,480.39V486.53M235.93,480.39h2.7M235.93,486.53h2.7M241.56,489.21V495.14M240.21,489.21h2.7M240.21,495.14h2.7M245.84,481.22V487.97M244.49,481.22h2.7M244.49,487.97h2.7M250.12,473.46V482.84M248.77,473.46h2.7M248.77,482.84h2.7M254.4,482.71V490.27M253.05,482.71h2.7M253.05,490.27h2.7M258.68,490.76V496.62M257.33,490.76h2.7M257.33,496.62h2.7M262.96,484.7V492.07M261.61,484.7h2.7M261.61,492.07h2.7M267.24,490.74V496.65M265.89,490.74h2.7M265.89,496.65h2.7M271.52,486.67V494.65M270.17,486.67h2.7M270.17,494.65h2.7M275.8,489.11V498.27M274.45,489.11h2.7M274.45,498.27h2.7M280.08,489.33V493.5M278.73,489.33h2.7M278.73,493.5h2.7M284.36,494.56V498.89M283.01,494.56h2.7M283.01,498.89h2.7M288.64,497.08V503.95M287.29,497.08h2.7M287.29,503.95h2.7M292.92,495.15V502.85M291.57,495.15h2.7M291.57,502.85h2.7M297.2,500.81V506.28M295.85,500.81h2.7M295.85,506.28h2.7M301.48,500.43V508.17M300.13,500.43h2.7M300.13,508.17h2.7M305.76,502.6V507.52M304.41,502.6h2.7M304.41,507.52h2.7M310.04,502.07V509.56M308.69,502.07h2.7M308.69,509.56h2.7" stroke="#fb8c1c" stroke-width="0.55" fill="none" opacity="0.8"/>
<path d="M211.6,507.34L215.88,505.82L220.16,504.3L224.44,500.51L228.72,495.97L233,486.87L237.28,483.46L241.56,492.18L245.84,484.6L250.12,478.15L254.4,486.49L258.68,493.69L262.96,488.38L267.24,493.69L271.52,490.66L275.8,493.69L280.08,491.42L284.36,496.72L288.64,500.51L292.92,499L297.2,503.55L301.48,504.3L305.76,505.06L310.04,505.82" stroke="#fb8c1c" stroke-width="0.95" fill="none" stroke-linejoin="round"/>
<rect x="210.15" y="505.89" width="2.9" height="2.9" fill="#fb8c1c"/><rect x="214.43" y="504.37" width="2.9" height="2.9" fill="#fb8c1c"/><rect x="218.71" y="502.85" width="2.9" height="2.9" fill="#fb8c1c"/><rect x="222.99" y="499.06" width="2.9" height="2.9" fill="#fb8c1c"/><rect x="227.27" y="494.52" width="2.9" height="2.9" fill="#fb8c1c"/><rect x="231.55" y="485.42" width="2.9" height="2.9" fill="#fb8c1c"/><rect x="235.83" y="482.01" width="2.9" height="2.9" fill="#fb8c1c"/><rect x="240.11" y="490.73" width="2.9" height="2.9" fill="#fb8c1c"/><rect x="244.39" y="483.15" width="2.9" height="2.9" fill="#fb8c1c"/><rect x="248.67" y="476.7" width="2.9" height="2.9" fill="#fb8c1c"/><rect x="252.95" y="485.04" width="2.9" height="2.9" fill="#fb8c1c"/><rect x="257.23" y="492.24" width="2.9" height="2.9" fill="#fb8c1c"/><rect x="261.51" y="486.94" width="2.9" height="2.9" fill="#fb8c1c"/><rect x="265.79" y="492.24" width="2.9" height="2.9" fill="#fb8c1c"/><rect x="270.07" y="489.21" width="2.9" height="2.9" fill="#fb8c1c"/><rect x="274.35" y="492.24" width="2.9" height="2.9" fill="#fb8c1c"/><rect x="278.63" y="489.97" width="2.9" height="2.9" fill="#fb8c1c"/><rect x="282.91" y="495.27" width="2.9" height="2.9" fill="#fb8c1c"/><rect x="287.19" y="499.06" width="2.9" height="2.9" fill="#fb8c1c"/><rect x="291.47" y="497.55" width="2.9" height="2.9" fill="#fb8c1c"/><rect x="295.75" y="502.1" width="2.9" height="2.9" fill="#fb8c1c"/><rect x="300.03" y="502.85" width="2.9" height="2.9" fill="#fb8c1c"/><rect x="304.31" y="503.61" width="2.9" height="2.9" fill="#fb8c1c"/><rect x="308.59" y="504.37" width="2.9" height="2.9" fill="#fb8c1c"/>
<path d="M211.6,491.57V498.84M210.25,491.57h2.7M210.25,498.84h2.7M215.88,496.86V505.68M214.53,496.86h2.7M214.53,505.68h2.7M220.16,495.01V502.99M218.81,495.01h2.7M218.81,502.99h2.7M224.44,482.09V489.38M223.09,482.09h2.7M223.09,489.38h2.7M228.72,481.72V488.23M227.37,481.72h2.7M227.37,488.23h2.7M233,470.37V478.35M231.65,470.37h2.7M231.65,478.35h2.7M237.28,468.23V475.95M235.93,468.23h2.7M235.93,475.95h2.7M241.56,469.7V477.5M240.21,469.7h2.7M240.21,477.5h2.7M245.84,467.79V476.38M244.49,467.79h2.7M244.49,476.38h2.7M250.12,472.2V479.55M248.77,472.2h2.7M248.77,479.55h2.7M254.4,460.37V467.13M253.05,460.37h2.7M253.05,467.13h2.7M258.68,462.09V466.93M257.33,462.09h2.7M257.33,466.93h2.7M262.96,463.3V471.78M261.61,463.3h2.7M261.61,471.78h2.7M267.24,468.21V472.94M265.89,468.21h2.7M265.89,472.94h2.7M271.52,471.52V475.69M270.17,471.52h2.7M270.17,475.69h2.7M275.8,466.58V471.53M274.45,466.58h2.7M274.45,471.53h2.7M280.08,468.21V472.93M278.73,468.21h2.7M278.73,472.93h2.7M284.36,466.94V474.2M283.01,466.94h2.7M283.01,474.2h2.7M288.64,475.79V482.03M287.29,475.79h2.7M287.29,482.03h2.7M292.92,478.79V488.12M291.57,478.79h2.7M291.57,488.12h2.7M297.2,486.54V494.77M295.85,486.54h2.7M295.85,494.77h2.7M301.48,483.64V493.13M300.13,483.64h2.7M300.13,493.13h2.7M305.76,488.47V497.4M304.41,488.47h2.7M304.41,497.4h2.7M310.04,492.05V501.4M308.69,492.05h2.7M308.69,501.4h2.7" stroke="#17935a" stroke-width="0.55" fill="none" opacity="0.8"/>
<path d="M211.6,495.21L215.88,501.27L220.16,499L224.44,485.73L228.72,484.97L233,474.36L237.28,472.09L241.56,473.6L245.84,472.09L250.12,475.88L254.4,463.75L258.68,464.51L262.96,467.54L267.24,470.57L271.52,473.6L275.8,469.06L280.08,470.57L284.36,470.57L288.64,478.91L292.92,483.46L297.2,490.66L301.48,488.38L305.76,492.93L310.04,496.72" stroke="#17935a" stroke-width="0.95" fill="none" stroke-linejoin="round"/>
<path d="M211.6,493.66L213.15,496.37L210.05,496.37Z" fill="#17935a"/><path d="M215.88,499.72L217.43,502.43L214.33,502.43Z" fill="#17935a"/><path d="M220.16,497.45L221.71,500.16L218.61,500.16Z" fill="#17935a"/><path d="M224.44,484.18L225.99,486.89L222.89,486.89Z" fill="#17935a"/><path d="M228.72,483.42L230.27,486.14L227.17,486.14Z" fill="#17935a"/><path d="M233,472.81L234.55,475.52L231.45,475.52Z" fill="#17935a"/><path d="M237.28,470.54L238.83,473.25L235.73,473.25Z" fill="#17935a"/><path d="M241.56,472.05L243.11,474.77L240.01,474.77Z" fill="#17935a"/><path d="M245.84,470.54L247.39,473.25L244.29,473.25Z" fill="#17935a"/><path d="M250.12,474.33L251.67,477.04L248.57,477.04Z" fill="#17935a"/><path d="M254.4,462.2L255.95,464.91L252.85,464.91Z" fill="#17935a"/><path d="M258.68,462.96L260.23,465.67L257.13,465.67Z" fill="#17935a"/><path d="M262.96,465.99L264.51,468.7L261.41,468.7Z" fill="#17935a"/><path d="M267.24,469.02L268.79,471.73L265.69,471.73Z" fill="#17935a"/><path d="M271.52,472.05L273.07,474.77L269.97,474.77Z" fill="#17935a"/><path d="M275.8,467.51L277.35,470.22L274.25,470.22Z" fill="#17935a"/><path d="M280.08,469.02L281.63,471.73L278.53,471.73Z" fill="#17935a"/><path d="M284.36,469.02L285.91,471.73L282.81,471.73Z" fill="#17935a"/><path d="M288.64,477.36L290.19,480.07L287.09,480.07Z" fill="#17935a"/><path d="M292.92,481.91L294.47,484.62L291.37,484.62Z" fill="#17935a"/><path d="M297.2,489.11L298.75,491.82L295.65,491.82Z" fill="#17935a"/><path d="M301.48,486.83L303.03,489.55L299.93,489.55Z" fill="#17935a"/><path d="M305.76,491.38L307.31,494.1L304.21,494.1Z" fill="#17935a"/><path d="M310.04,495.17L311.59,497.89L308.49,497.89Z" fill="#17935a"/>
<path d="M318.9,449.6h8.3" stroke="#f2188c" stroke-width="1.15"/>
<path d="M323.05,447.75L324.9,449.6L323.05,451.45L321.2,449.6Z" fill="#f2188c"/>
<path d="M318.9,460.4h8.3" stroke="#fb8c1c" stroke-width="1.15"/>
<rect x="321.6" y="458.95" width="2.9" height="2.9" fill="#fb8c1c"/>
<path d="M318.9,471.2h8.3" stroke="#17935a" stroke-width="1.15"/>
<path d="M323.05,469.65L324.6,472.36L321.5,472.36Z" fill="#17935a"/>
</g>
<g>
<path d="M36.4,22.2V98.2H140.6" fill="none" stroke="#0a0a0a" stroke-width="0.95"/>
<path d="M33.8,98.2H36.4" stroke="#0a0a0a" stroke-width="0.9"/>
<text transform="translate(32.5,100.18) scale(1,1.1)" font-size="5.15" font-weight="bold" text-anchor="end" fill="#111">0.0</text>
<path d="M33.8,79.3H36.4" stroke="#0a0a0a" stroke-width="0.9"/>
<text transform="translate(32.5,81.28) scale(1,1.1)" font-size="5.15" font-weight="bold" text-anchor="end" fill="#111">0.2</text>
<path d="M33.8,60.4H36.4" stroke="#0a0a0a" stroke-width="0.9"/>
<text transform="translate(32.5,62.38) scale(1,1.1)" font-size="5.15" font-weight="bold" text-anchor="end" fill="#111">0.4</text>
<path d="M33.8,41.5H36.4" stroke="#0a0a0a" stroke-width="0.9"/>
<text transform="translate(32.5,43.48) scale(1,1.1)" font-size="5.15" font-weight="bold" text-anchor="end" fill="#111">0.6</text>
<path d="M33.8,22.6H36.4" stroke="#0a0a0a" stroke-width="0.9"/>
<text transform="translate(32.5,24.58) scale(1,1.1)" font-size="5.15" font-weight="bold" text-anchor="end" fill="#111">0.8</text>
<path d="M39.3,98.2V101.2" stroke="#0a0a0a" stroke-width="0.9"/>
<text transform="translate(40.4,106.5) rotate(-45) scale(1,1.1)" font-size="5.0" font-weight="bold" text-anchor="end" fill="#111">0</text>
<path d="M56.4,98.2V101.2" stroke="#0a0a0a" stroke-width="0.9"/>
<text transform="translate(57.5,106.5) rotate(-45) scale(1,1.1)" font-size="5.0" font-weight="bold" text-anchor="end" fill="#111">4</text>
<path d="M73.5,98.2V101.2" stroke="#0a0a0a" stroke-width="0.9"/>
<text transform="translate(74.6,106.5) rotate(-45) scale(1,1.1)" font-size="5.0" font-weight="bold" text-anchor="end" fill="#111">8</text>
<path d="M90.6,98.2V101.2" stroke="#0a0a0a" stroke-width="0.9"/>
<text transform="translate(91.7,106.5) rotate(-45) scale(1,1.1)" font-size="5.0" font-weight="bold" text-anchor="end" fill="#111">12</text>
<path d="M107.7,98.2V101.2" stroke="#0a0a0a" stroke-width="0.9"/>
<text transform="translate(108.8,106.5) rotate(-45) scale(1,1.1)" font-size="5.0" font-weight="bold" text-anchor="end" fill="#111">16</text>
<path d="M124.8,98.2V101.2" stroke="#0a0a0a" stroke-width="0.9"/>
<text transform="translate(125.9,106.5) rotate(-45) scale(1,1.1)" font-size="5.0" font-weight="bold" text-anchor="end" fill="#111">20</text>
<text transform="translate(40.9,12.85) scale(1,1.12)" font-size="6.5" font-weight="bold" fill="#111">Time budget for eating by farm</text>
<text transform="translate(21.4,60) rotate(-90) scale(1,1.1)" font-size="6.05" font-weight="bold" text-anchor="middle" fill="#111">Time budget (mean +/-SEM)</text>
<text transform="translate(88.6,120.9) scale(1,1.14)" font-size="5.6" font-weight="bold" text-anchor="middle" fill="#111">Time of day (h)</text>
<text transform="translate(153.6,29.6) scale(1,1.2)" font-size="5.6" fill="#1a1a1a" style="stroke-width:0.06px">Farm 1</text>
<text transform="translate(153.6,40.25) scale(1,1.2)" font-size="5.6" fill="#1a1a1a" style="stroke-width:0.06px">Farm 2</text>
<text transform="translate(153.6,50.9) scale(1,1.2)" font-size="5.6" fill="#1a1a1a" style="stroke-width:0.06px">Farm 3</text>
<text transform="translate(153.6,61.55) scale(1,1.2)" font-size="5.6" fill="#1a1a1a" style="stroke-width:0.06px">Farm 4</text>
<text transform="translate(153.6,72.2) scale(1,1.2)" font-size="5.6" fill="#1a1a1a" style="stroke-width:0.06px">Farm 5</text>
<path d="M204.6,21.92V97.6H308.3" fill="none" stroke="#0a0a0a" stroke-width="0.95"/>
<path d="M202,97.6H204.6" stroke="#0a0a0a" stroke-width="0.9"/>
<text transform="translate(200.7,99.58) scale(1,1.1)" font-size="5.15" font-weight="bold" text-anchor="end" fill="#111">0.0</text>
<path d="M202,78.78H204.6" stroke="#0a0a0a" stroke-width="0.9"/>
<text transform="translate(200.7,80.76) scale(1,1.1)" font-size="5.15" font-weight="bold" text-anchor="end" fill="#111">0.2</text>
<path d="M202,59.96H204.6" stroke="#0a0a0a" stroke-width="0.9"/>
<text transform="translate(200.7,61.94) scale(1,1.1)" font-size="5.15" font-weight="bold" text-anchor="end" fill="#111">0.4</text>
<path d="M202,41.14H204.6" stroke="#0a0a0a" stroke-width="0.9"/>
<text transform="translate(200.7,43.12) scale(1,1.1)" font-size="5.15" font-weight="bold" text-anchor="end" fill="#111">0.6</text>
<path d="M202,22.32H204.6" stroke="#0a0a0a" stroke-width="0.9"/>
<text transform="translate(200.7,24.3) scale(1,1.1)" font-size="5.15" font-weight="bold" text-anchor="end" fill="#111">0.8</text>
<path d="M207.5,97.6V100.6" stroke="#0a0a0a" stroke-width="0.9"/>
<text transform="translate(208.6,105.9) rotate(-45) scale(1,1.1)" font-size="5.0" font-weight="bold" text-anchor="end" fill="#111">0</text>
<path d="M224.5,97.6V100.6" stroke="#0a0a0a" stroke-width="0.9"/>
<text transform="translate(225.6,105.9) rotate(-45) scale(1,1.1)" font-size="5.0" font-weight="bold" text-anchor="end" fill="#111">4</text>
<path d="M241.5,97.6V100.6" stroke="#0a0a0a" stroke-width="0.9"/>
<text transform="translate(242.6,105.9) rotate(-45) scale(1,1.1)" font-size="5.0" font-weight="bold" text-anchor="end" fill="#111">8</text>
<path d="M258.5,97.6V100.6" stroke="#0a0a0a" stroke-width="0.9"/>
<text transform="translate(259.6,105.9) rotate(-45) scale(1,1.1)" font-size="5.0" font-weight="bold" text-anchor="end" fill="#111">12</text>
<path d="M275.5,97.6V100.6" stroke="#0a0a0a" stroke-width="0.9"/>
<text transform="translate(276.6,105.9) rotate(-45) scale(1,1.1)" font-size="5.0" font-weight="bold" text-anchor="end" fill="#111">16</text>
<path d="M292.5,97.6V100.6" stroke="#0a0a0a" stroke-width="0.9"/>
<text transform="translate(293.6,105.9) rotate(-45) scale(1,1.1)" font-size="5.0" font-weight="bold" text-anchor="end" fill="#111">20</text>
<text transform="translate(188.1,12.55) scale(1,1.12)" font-size="6.5" font-weight="bold" fill="#111">Time budget for eating by turn-out condition</text>
<text transform="translate(191.4,60.1) rotate(-90) scale(1,1.1)" font-size="6.05" font-weight="bold" text-anchor="middle" fill="#111">Time budget (mean +/-SEM)</text>
<text transform="translate(256.6,120.9) scale(1,1.14)" font-size="5.6" font-weight="bold" text-anchor="middle" fill="#111">Time of day (h)</text>
<text transform="translate(329.2,29.9) scale(1,1.2)" font-size="5.6" fill="#1a1a1a" style="stroke-width:0.06px">Paddock</text>
<text transform="translate(329.2,40.5) scale(1,1.2)" font-size="5.6" fill="#1a1a1a" style="stroke-width:0.06px">Stable</text>
<text transform="translate(329.2,51.1) scale(1,1.2)" font-size="5.6" fill="#1a1a1a" style="stroke-width:0.06px">Pasture</text>
<path d="M36.2,163.3V239.5H140.6" fill="none" stroke="#0a0a0a" stroke-width="0.95"/>
<path d="M33.6,239.5H36.2" stroke="#0a0a0a" stroke-width="0.9"/>
<text transform="translate(32.3,241.48) scale(1,1.1)" font-size="5.15" font-weight="bold" text-anchor="end" fill="#111">0.0</text>
<path d="M33.6,224.34H36.2" stroke="#0a0a0a" stroke-width="0.9"/>
<text transform="translate(32.3,226.32) scale(1,1.1)" font-size="5.15" font-weight="bold" text-anchor="end" fill="#111">0.2</text>
<path d="M33.6,209.18H36.2" stroke="#0a0a0a" stroke-width="0.9"/>
<text transform="translate(32.3,211.16) scale(1,1.1)" font-size="5.15" font-weight="bold" text-anchor="end" fill="#111">0.4</text>
<path d="M33.6,194.02H36.2" stroke="#0a0a0a" stroke-width="0.9"/>
<text transform="translate(32.3,196) scale(1,1.1)" font-size="5.15" font-weight="bold" text-anchor="end" fill="#111">0.6</text>
<path d="M33.6,178.86H36.2" stroke="#0a0a0a" stroke-width="0.9"/>
<text transform="translate(32.3,180.84) scale(1,1.1)" font-size="5.15" font-weight="bold" text-anchor="end" fill="#111">0.8</text>
<path d="M33.6,163.7H36.2" stroke="#0a0a0a" stroke-width="0.9"/>
<text transform="translate(32.3,165.68) scale(1,1.1)" font-size="5.15" font-weight="bold" text-anchor="end" fill="#111">1.0</text>
<path d="M38.6,239.5V242.5" stroke="#0a0a0a" stroke-width="0.9"/>
<text transform="translate(39.7,247.8) rotate(-45) scale(1,1.1)" font-size="5.0" font-weight="bold" text-anchor="end" fill="#111">0</text>
<path d="M55.8,239.5V242.5" stroke="#0a0a0a" stroke-width="0.9"/>
<text transform="translate(56.9,247.8) rotate(-45) scale(1,1.1)" font-size="5.0" font-weight="bold" text-anchor="end" fill="#111">4</text>
<path d="M73,239.5V242.5" stroke="#0a0a0a" stroke-width="0.9"/>
<text transform="translate(74.1,247.8) rotate(-45) scale(1,1.1)" font-size="5.0" font-weight="bold" text-anchor="end" fill="#111">8</text>
<path d="M90.2,239.5V242.5" stroke="#0a0a0a" stroke-width="0.9"/>
<text transform="translate(91.3,247.8) rotate(-45) scale(1,1.1)" font-size="5.0" font-weight="bold" text-anchor="end" fill="#111">12</text>
<path d="M107.4,239.5V242.5" stroke="#0a0a0a" stroke-width="0.9"/>
<text transform="translate(108.5,247.8) rotate(-45) scale(1,1.1)" font-size="5.0" font-weight="bold" text-anchor="end" fill="#111">16</text>
<path d="M124.6,239.5V242.5" stroke="#0a0a0a" stroke-width="0.9"/>
<text transform="translate(125.7,247.8) rotate(-45) scale(1,1.1)" font-size="5.0" font-weight="bold" text-anchor="end" fill="#111">20</text>
<text transform="translate(39.3,153.55) scale(1,1.12)" font-size="6.5" font-weight="bold" fill="#111">Time budget for resting by farm</text>
<text transform="translate(21,201.3) rotate(-90) scale(1,1.1)" font-size="6.05" font-weight="bold" text-anchor="middle" fill="#111">Time budget (mean +/- SEM)</text>
<text transform="translate(88.9,262.8) scale(1,1.14)" font-size="5.6" font-weight="bold" text-anchor="middle" fill="#111">Time of day (h)</text>
<text transform="translate(154,170.9) scale(1,1.2)" font-size="5.6" fill="#1a1a1a" style="stroke-width:0.06px">Farm 1</text>
<text transform="translate(154,181.55) scale(1,1.2)" font-size="5.6" fill="#1a1a1a" style="stroke-width:0.06px">Farm 2</text>
<text transform="translate(154,192.2) scale(1,1.2)" font-size="5.6" fill="#1a1a1a" style="stroke-width:0.06px">Farm 3</text>
<text transform="translate(154,202.85) scale(1,1.2)" font-size="5.6" fill="#1a1a1a" style="stroke-width:0.06px">Farm 4</text>
<text transform="translate(154,213.5) scale(1,1.2)" font-size="5.6" fill="#1a1a1a" style="stroke-width:0.06px">Farm 5</text>
<path d="M205,163.08V239H308.9" fill="none" stroke="#0a0a0a" stroke-width="0.95"/>
<path d="M202.4,239H205" stroke="#0a0a0a" stroke-width="0.9"/>
<text transform="translate(201.1,240.98) scale(1,1.1)" font-size="5.15" font-weight="bold" text-anchor="end" fill="#111">0.0</text>
<path d="M202.4,220.12H205" stroke="#0a0a0a" stroke-width="0.9"/>
<text transform="translate(201.1,222.1) scale(1,1.1)" font-size="5.15" font-weight="bold" text-anchor="end" fill="#111">0.2</text>
<path d="M202.4,201.24H205" stroke="#0a0a0a" stroke-width="0.9"/>
<text transform="translate(201.1,203.22) scale(1,1.1)" font-size="5.15" font-weight="bold" text-anchor="end" fill="#111">0.4</text>
<path d="M202.4,182.36H205" stroke="#0a0a0a" stroke-width="0.9"/>
<text transform="translate(201.1,184.34) scale(1,1.1)" font-size="5.15" font-weight="bold" text-anchor="end" fill="#111">0.6</text>
<path d="M202.4,163.48H205" stroke="#0a0a0a" stroke-width="0.9"/>
<text transform="translate(201.1,165.46) scale(1,1.1)" font-size="5.15" font-weight="bold" text-anchor="end" fill="#111">0.8</text>
<path d="M207.6,239V242" stroke="#0a0a0a" stroke-width="0.9"/>
<text transform="translate(208.7,247.3) rotate(-45) scale(1,1.1)" font-size="5.0" font-weight="bold" text-anchor="end" fill="#111">0</text>
<path d="M224.72,239V242" stroke="#0a0a0a" stroke-width="0.9"/>
<text transform="translate(225.82,247.3) rotate(-45) scale(1,1.1)" font-size="5.0" font-weight="bold" text-anchor="end" fill="#111">4</text>
<path d="M241.84,239V242" stroke="#0a0a0a" stroke-width="0.9"/>
<text transform="translate(242.94,247.3) rotate(-45) scale(1,1.1)" font-size="5.0" font-weight="bold" text-anchor="end" fill="#111">8</text>
<path d="M258.96,239V242" stroke="#0a0a0a" stroke-width="0.9"/>
<text transform="translate(260.06,247.3) rotate(-45) scale(1,1.1)" font-size="5.0" font-weight="bold" text-anchor="end" fill="#111">12</text>
<path d="M276.08,239V242" stroke="#0a0a0a" stroke-width="0.9"/>
<text transform="translate(277.18,247.3) rotate(-45) scale(1,1.1)" font-size="5.0" font-weight="bold" text-anchor="end" fill="#111">16</text>
<path d="M293.2,239V242" stroke="#0a0a0a" stroke-width="0.9"/>
<text transform="translate(294.3,247.3) rotate(-45) scale(1,1.1)" font-size="5.0" font-weight="bold" text-anchor="end" fill="#111">20</text>
<text transform="translate(187.1,153.65) scale(1,1.12)" font-size="6.5" font-weight="bold" fill="#111">Time budget for resting by turn-out condition</text>
<text transform="translate(191.2,200.9) rotate(-90) scale(1,1.1)" font-size="6.05" font-weight="bold" text-anchor="middle" fill="#111">Time budget (mean +/- SEM)</text>
<text transform="translate(257.4,262.1) scale(1,1.14)" font-size="5.6" font-weight="bold" text-anchor="middle" fill="#111">Time of day (h)</text>
<text transform="translate(331.9,171.1) scale(1,1.2)" font-size="5.6" fill="#1a1a1a" style="stroke-width:0.06px">Paddock</text>
<text transform="translate(331.9,181.5) scale(1,1.2)" font-size="5.6" fill="#1a1a1a" style="stroke-width:0.06px">Stable</text>
<text transform="translate(331.9,191.9) scale(1,1.2)" font-size="5.6" fill="#1a1a1a" style="stroke-width:0.06px">Pasture</text>
<path d="M36.2,305.6V381.7H140.6" fill="none" stroke="#0a0a0a" stroke-width="0.95"/>
<path d="M33.6,381.7H36.2" stroke="#0a0a0a" stroke-width="0.9"/>
<text transform="translate(32.3,383.68) scale(1,1.1)" font-size="5.15" font-weight="bold" text-anchor="end" fill="#111">0.00</text>
<path d="M33.6,362.77H36.2" stroke="#0a0a0a" stroke-width="0.9"/>
<text transform="translate(32.3,364.75) scale(1,1.1)" font-size="5.15" font-weight="bold" text-anchor="end" fill="#111">0.05</text>
<path d="M33.6,343.85H36.2" stroke="#0a0a0a" stroke-width="0.9"/>
<text transform="translate(32.3,345.83) scale(1,1.1)" font-size="5.15" font-weight="bold" text-anchor="end" fill="#111">0.10</text>
<path d="M33.6,324.93H36.2" stroke="#0a0a0a" stroke-width="0.9"/>
<text transform="translate(32.3,326.91) scale(1,1.1)" font-size="5.15" font-weight="bold" text-anchor="end" fill="#111">0.15</text>
<path d="M33.6,306H36.2" stroke="#0a0a0a" stroke-width="0.9"/>
<text transform="translate(32.3,307.98) scale(1,1.1)" font-size="5.15" font-weight="bold" text-anchor="end" fill="#111">0.20</text>
<path d="M39.3,381.7V384.7" stroke="#0a0a0a" stroke-width="0.9"/>
<text transform="translate(40.4,390) rotate(-45) scale(1,1.1)" font-size="5.0" font-weight="bold" text-anchor="end" fill="#111">0</text>
<path d="M56.42,381.7V384.7" stroke="#0a0a0a" stroke-width="0.9"/>
<text transform="translate(57.52,390) rotate(-45) scale(1,1.1)" font-size="5.0" font-weight="bold" text-anchor="end" fill="#111">4</text>
<path d="M73.54,381.7V384.7" stroke="#0a0a0a" stroke-width="0.9"/>
<text transform="translate(74.64,390) rotate(-45) scale(1,1.1)" font-size="5.0" font-weight="bold" text-anchor="end" fill="#111">8</text>
<path d="M90.66,381.7V384.7" stroke="#0a0a0a" stroke-width="0.9"/>
<text transform="translate(91.76,390) rotate(-45) scale(1,1.1)" font-size="5.0" font-weight="bold" text-anchor="end" fill="#111">12</text>
<path d="M107.78,381.7V384.7" stroke="#0a0a0a" stroke-width="0.9"/>
<text transform="translate(108.88,390) rotate(-45) scale(1,1.1)" font-size="5.0" font-weight="bold" text-anchor="end" fill="#111">16</text>
<path d="M124.9,381.7V384.7" stroke="#0a0a0a" stroke-width="0.9"/>
<text transform="translate(126,390) rotate(-45) scale(1,1.1)" font-size="5.0" font-weight="bold" text-anchor="end" fill="#111">20</text>
<text transform="translate(26.1,296.6) scale(1,1.12)" font-size="6.5" font-weight="bold" fill="#111">Time budget for slow movement by farm</text>
<text transform="translate(18,344.1) rotate(-90) scale(1,1.1)" font-size="6.05" font-weight="bold" text-anchor="middle" fill="#111">Time budget (mean+/- SEM)</text>
<text transform="translate(88.9,405.2) scale(1,1.14)" font-size="5.6" font-weight="bold" text-anchor="middle" fill="#111">Time of day (h)</text>
<text transform="translate(153.9,313.3) scale(1,1.2)" font-size="5.6" fill="#1a1a1a" style="stroke-width:0.06px">Farm 1</text>
<text transform="translate(153.9,323.98) scale(1,1.2)" font-size="5.6" fill="#1a1a1a" style="stroke-width:0.06px">Farm 2</text>
<text transform="translate(153.9,334.66) scale(1,1.2)" font-size="5.6" fill="#1a1a1a" style="stroke-width:0.06px">Farm 3</text>
<text transform="translate(153.9,345.34) scale(1,1.2)" font-size="5.6" fill="#1a1a1a" style="stroke-width:0.06px">Farm 4</text>
<text transform="translate(153.9,356.02) scale(1,1.2)" font-size="5.6" fill="#1a1a1a" style="stroke-width:0.06px">Farm 5</text>
<path d="M211.3,305.6V381.5H315.6" fill="none" stroke="#0a0a0a" stroke-width="0.95"/>
<path d="M208.7,381.5H211.3" stroke="#0a0a0a" stroke-width="0.9"/>
<text transform="translate(207.4,383.48) scale(1,1.1)" font-size="5.15" font-weight="bold" text-anchor="end" fill="#111">0.00</text>
<path d="M208.7,362.62H211.3" stroke="#0a0a0a" stroke-width="0.9"/>
<text transform="translate(207.4,364.61) scale(1,1.1)" font-size="5.15" font-weight="bold" text-anchor="end" fill="#111">0.05</text>
<path d="M208.7,343.75H211.3" stroke="#0a0a0a" stroke-width="0.9"/>
<text transform="translate(207.4,345.73) scale(1,1.1)" font-size="5.15" font-weight="bold" text-anchor="end" fill="#111">0.10</text>
<path d="M208.7,324.88H211.3" stroke="#0a0a0a" stroke-width="0.9"/>
<text transform="translate(207.4,326.86) scale(1,1.1)" font-size="5.15" font-weight="bold" text-anchor="end" fill="#111">0.15</text>
<path d="M208.7,306H211.3" stroke="#0a0a0a" stroke-width="0.9"/>
<text transform="translate(207.4,307.98) scale(1,1.1)" font-size="5.15" font-weight="bold" text-anchor="end" fill="#111">0.20</text>
<path d="M214.3,381.5V384.5" stroke="#0a0a0a" stroke-width="0.9"/>
<text transform="translate(215.4,389.8) rotate(-45) scale(1,1.1)" font-size="5.0" font-weight="bold" text-anchor="end" fill="#111">0</text>
<path d="M231.36,381.5V384.5" stroke="#0a0a0a" stroke-width="0.9"/>
<text transform="translate(232.46,389.8) rotate(-45) scale(1,1.1)" font-size="5.0" font-weight="bold" text-anchor="end" fill="#111">4</text>
<path d="M248.42,381.5V384.5" stroke="#0a0a0a" stroke-width="0.9"/>
<text transform="translate(249.52,389.8) rotate(-45) scale(1,1.1)" font-size="5.0" font-weight="bold" text-anchor="end" fill="#111">8</text>
<path d="M265.48,381.5V384.5" stroke="#0a0a0a" stroke-width="0.9"/>
<text transform="translate(266.58,389.8) rotate(-45) scale(1,1.1)" font-size="5.0" font-weight="bold" text-anchor="end" fill="#111">12</text>
<path d="M282.54,381.5V384.5" stroke="#0a0a0a" stroke-width="0.9"/>
<text transform="translate(283.64,389.8) rotate(-45) scale(1,1.1)" font-size="5.0" font-weight="bold" text-anchor="end" fill="#111">16</text>
<path d="M299.6,381.5V384.5" stroke="#0a0a0a" stroke-width="0.9"/>
<text transform="translate(300.7,389.8) rotate(-45) scale(1,1.1)" font-size="5.0" font-weight="bold" text-anchor="end" fill="#111">20</text>
<text transform="translate(180.2,296.35) scale(1,1.12)" font-size="6.5" font-weight="bold" fill="#111">Time budget for slow movement by turn-out condition</text>
<text transform="translate(193.8,344.1) rotate(-90) scale(1,1.1)" font-size="6.05" font-weight="bold" text-anchor="middle" fill="#111">Time budget (mean+/- SEM)</text>
<text transform="translate(263.9,404.8) scale(1,1.14)" font-size="5.6" font-weight="bold" text-anchor="middle" fill="#111">Time of day (h)</text>
<text transform="translate(338,313.6) scale(1,1.2)" font-size="5.6" fill="#1a1a1a" style="stroke-width:0.06px">Paddock</text>
<text transform="translate(338,324.2) scale(1,1.2)" font-size="5.6" fill="#1a1a1a" style="stroke-width:0.06px">Stable</text>
<text transform="translate(338,334.8) scale(1,1.2)" font-size="5.6" fill="#1a1a1a" style="stroke-width:0.06px">Pasture</text>
<path d="M36,445.9V522.5H140.6" fill="none" stroke="#0a0a0a" stroke-width="0.95"/>
<path d="M33.4,522.5H36" stroke="#0a0a0a" stroke-width="0.9"/>
<text transform="translate(32.1,524.48) scale(1,1.1)" font-size="5.15" font-weight="bold" text-anchor="end" fill="#111">0.00</text>
<path d="M33.4,503.45H36" stroke="#0a0a0a" stroke-width="0.9"/>
<text transform="translate(32.1,505.43) scale(1,1.1)" font-size="5.15" font-weight="bold" text-anchor="end" fill="#111">0.05</text>
<path d="M33.4,484.4H36" stroke="#0a0a0a" stroke-width="0.9"/>
<text transform="translate(32.1,486.38) scale(1,1.1)" font-size="5.15" font-weight="bold" text-anchor="end" fill="#111">0.10</text>
<path d="M33.4,465.35H36" stroke="#0a0a0a" stroke-width="0.9"/>
<text transform="translate(32.1,467.33) scale(1,1.1)" font-size="5.15" font-weight="bold" text-anchor="end" fill="#111">0.15</text>
<path d="M33.4,446.3H36" stroke="#0a0a0a" stroke-width="0.9"/>
<text transform="translate(32.1,448.28) scale(1,1.1)" font-size="5.15" font-weight="bold" text-anchor="end" fill="#111">0.20</text>
<path d="M39.1,522.5V525.5" stroke="#0a0a0a" stroke-width="0.9"/>
<text transform="translate(40.2,530.8) rotate(-45) scale(1,1.1)" font-size="5.0" font-weight="bold" text-anchor="end" fill="#111">0</text>
<path d="M56.26,522.5V525.5" stroke="#0a0a0a" stroke-width="0.9"/>
<text transform="translate(57.36,530.8) rotate(-45) scale(1,1.1)" font-size="5.0" font-weight="bold" text-anchor="end" fill="#111">4</text>
<path d="M73.42,522.5V525.5" stroke="#0a0a0a" stroke-width="0.9"/>
<text transform="translate(74.52,530.8) rotate(-45) scale(1,1.1)" font-size="5.0" font-weight="bold" text-anchor="end" fill="#111">8</text>
<path d="M90.58,522.5V525.5" stroke="#0a0a0a" stroke-width="0.9"/>
<text transform="translate(91.68,530.8) rotate(-45) scale(1,1.1)" font-size="5.0" font-weight="bold" text-anchor="end" fill="#111">12</text>
<path d="M107.74,522.5V525.5" stroke="#0a0a0a" stroke-width="0.9"/>
<text transform="translate(108.84,530.8) rotate(-45) scale(1,1.1)" font-size="5.0" font-weight="bold" text-anchor="end" fill="#111">16</text>
<path d="M124.9,522.5V525.5" stroke="#0a0a0a" stroke-width="0.9"/>
<text transform="translate(126,530.8) rotate(-45) scale(1,1.1)" font-size="5.0" font-weight="bold" text-anchor="end" fill="#111">20</text>
<text transform="translate(27.3,437.6) scale(1,1.12)" font-size="6.5" font-weight="bold" fill="#111">Time budget for fast movement by farm</text>
<text transform="translate(18.4,485) rotate(-90) scale(1,1.1)" font-size="6.05" font-weight="bold" text-anchor="middle" fill="#111">Time budget (mean +/- SEM)</text>
<text transform="translate(89.1,545.9) scale(1,1.14)" font-size="5.6" font-weight="bold" text-anchor="middle" fill="#111">Time of day (h)</text>
<text transform="translate(153.9,453.7) scale(1,1.2)" font-size="5.6" fill="#1a1a1a" style="stroke-width:0.06px">Farm 1</text>
<text transform="translate(153.9,464.45) scale(1,1.2)" font-size="5.6" fill="#1a1a1a" style="stroke-width:0.06px">Farm 2</text>
<text transform="translate(153.9,475.2) scale(1,1.2)" font-size="5.6" fill="#1a1a1a" style="stroke-width:0.06px">Farm 3</text>
<text transform="translate(153.9,485.95) scale(1,1.2)" font-size="5.6" fill="#1a1a1a" style="stroke-width:0.06px">Farm 4</text>
<text transform="translate(153.9,496.7) scale(1,1.2)" font-size="5.6" fill="#1a1a1a" style="stroke-width:0.06px">Farm 5</text>
<path d="M208.5,444.4V520.6H313" fill="none" stroke="#0a0a0a" stroke-width="0.95"/>
<path d="M205.9,520.6H208.5" stroke="#0a0a0a" stroke-width="0.9"/>
<text transform="translate(204.6,522.58) scale(1,1.1)" font-size="5.15" font-weight="bold" text-anchor="end" fill="#111">0.00</text>
<path d="M205.9,501.65H208.5" stroke="#0a0a0a" stroke-width="0.9"/>
<text transform="translate(204.6,503.63) scale(1,1.1)" font-size="5.15" font-weight="bold" text-anchor="end" fill="#111">0.05</text>
<path d="M205.9,482.7H208.5" stroke="#0a0a0a" stroke-width="0.9"/>
<text transform="translate(204.6,484.68) scale(1,1.1)" font-size="5.15" font-weight="bold" text-anchor="end" fill="#111">0.10</text>
<path d="M205.9,463.75H208.5" stroke="#0a0a0a" stroke-width="0.9"/>
<text transform="translate(204.6,465.73) scale(1,1.1)" font-size="5.15" font-weight="bold" text-anchor="end" fill="#111">0.15</text>
<path d="M205.9,444.8H208.5" stroke="#0a0a0a" stroke-width="0.9"/>
<text transform="translate(204.6,446.78) scale(1,1.1)" font-size="5.15" font-weight="bold" text-anchor="end" fill="#111">0.20</text>
<path d="M211.6,520.6V523.6" stroke="#0a0a0a" stroke-width="0.9"/>
<text transform="translate(212.7,528.9) rotate(-45) scale(1,1.1)" font-size="5.0" font-weight="bold" text-anchor="end" fill="#111">0</text>
<path d="M228.72,520.6V523.6" stroke="#0a0a0a" stroke-width="0.9"/>
<text transform="translate(229.82,528.9) rotate(-45) scale(1,1.1)" font-size="5.0" font-weight="bold" text-anchor="end" fill="#111">4</text>
<path d="M245.84,520.6V523.6" stroke="#0a0a0a" stroke-width="0.9"/>
<text transform="translate(246.94,528.9) rotate(-45) scale(1,1.1)" font-size="5.0" font-weight="bold" text-anchor="end" fill="#111">8</text>
<path d="M262.96,520.6V523.6" stroke="#0a0a0a" stroke-width="0.9"/>
<text transform="translate(264.06,528.9) rotate(-45) scale(1,1.1)" font-size="5.0" font-weight="bold" text-anchor="end" fill="#111">12</text>
<path d="M280.08,520.6V523.6" stroke="#0a0a0a" stroke-width="0.9"/>
<text transform="translate(281.18,528.9) rotate(-45) scale(1,1.1)" font-size="5.0" font-weight="bold" text-anchor="end" fill="#111">16</text>
<path d="M297.2,520.6V523.6" stroke="#0a0a0a" stroke-width="0.9"/>
<text transform="translate(298.3,528.9) rotate(-45) scale(1,1.1)" font-size="5.0" font-weight="bold" text-anchor="end" fill="#111">20</text>
<text transform="translate(178.4,436.9) scale(1,1.12)" font-size="6.5" font-weight="bold" fill="#111">Time budget for fast movement by turn-out condition</text>
<text transform="translate(191.2,482.5) rotate(-90) scale(1,1.1)" font-size="6.05" font-weight="bold" text-anchor="middle" fill="#111">Time budget (mean +/- SEM)</text>
<text transform="translate(261.2,543.7) scale(1,1.14)" font-size="5.6" font-weight="bold" text-anchor="middle" fill="#111">Time of day (h)</text>
<text transform="translate(331,452) scale(1,1.2)" font-size="5.6" fill="#1a1a1a" style="stroke-width:0.06px">Paddock</text>
<text transform="translate(331,462.8) scale(1,1.2)" font-size="5.6" fill="#1a1a1a" style="stroke-width:0.06px">Stable</text>
<text transform="translate(331,473.6) scale(1,1.2)" font-size="5.6" fill="#1a1a1a" style="stroke-width:0.06px">Pasture</text>
</g></svg></body></html>
